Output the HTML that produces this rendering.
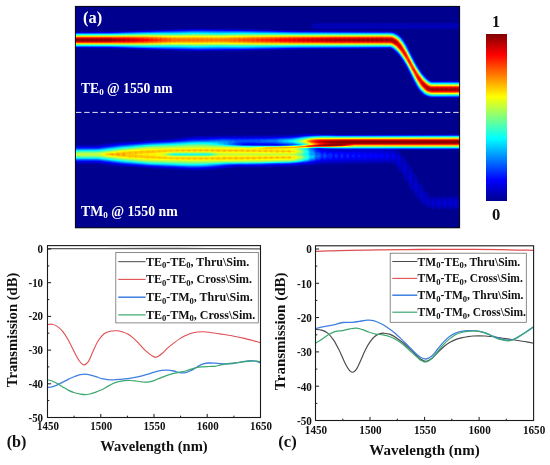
<!DOCTYPE html>
<html><head><meta charset="utf-8"><title>Figure</title>
<style>
html,body{margin:0;padding:0;background:#fff}
svg{display:block}
text{font-family:"Liberation Serif",serif;font-weight:bold;fill:#111}
.tk{font-size:11px}
.al{font-size:14.6px}
.pl{font-size:16px}
.lg{font-size:12px}
.sb{font-size:8.6px}
.hl{font-size:13.6px;fill:#fff}
.hs{font-size:9px;fill:#fff}
</style></head><body>
<svg width="550" height="465" viewBox="0 0 550 465">
<defs>
<filter id="jet" x="0" y="0" width="100%" height="100%" filterUnits="objectBoundingBox" color-interpolation-filters="sRGB">
<feGaussianBlur stdDeviation="0.55"/>
<feComponentTransfer>
<feFuncR type="table" tableValues="0 0 0 0 0.5 1 1 1 0.5"/>
<feFuncG type="table" tableValues="0 0 0.5 1 1 1 0.5 0 0"/>
<feFuncB type="table" tableValues="0.56 1 1 1 0.5 0 0 0 0"/>
<feFuncA type="linear" slope="0" intercept="1"/>
</feComponentTransfer>
</filter>
<clipPath id="hc"><rect x="75" y="6" width="385" height="222"/></clipPath>
<linearGradient id="cb" x1="0" y1="1" x2="0" y2="0">
<stop offset="0" stop-color="#00008f"/><stop offset="0.125" stop-color="#0000ff"/><stop offset="0.375" stop-color="#00ffff"/><stop offset="0.5" stop-color="#80ff80"/><stop offset="0.625" stop-color="#ffff00"/><stop offset="0.875" stop-color="#ff0000"/><stop offset="1" stop-color="#800000"/>
</linearGradient>
</defs>
<rect width="550" height="465" fill="#fff"/>
<g clip-path="url(#hc)">
<g filter="url(#jet)">
<rect x="60" y="0" width="420" height="240" fill="#000"/>
<path fill="rgb(11,11,11)" d="M462.2 29.2L461.2 29.1L459.2 28.5L456.8 29.2L455.8 29.1L453.8 28.5L451.2 29.2L450.2 29.1L448.2 28.5L445.8 29.2L444.8 29.1L442.8 28.5L440.2 29.2L439.2 29.1L437.2 28.5L434.8 29.2L433.8 29.1L431.8 28.5L429.2 29.2L428.2 29.1L426.2 28.5L423.8 29.2L422.8 29.1L420.8 28.5L418.2 29.2L417.2 29.1L415.2 28.5L412.8 29.2L411.8 29.1L409.8 28.5L407.2 29.2L406.2 29.1L404.2 28.5L401.8 29.2L400.8 29.1L398.8 28.5L396.2 29.2L395.2 29.1L393.2 28.5L390.8 29.2L389.8 29.1L387.8 28.5L385.2 29.2L384.2 29.1L382.2 28.5L379.8 29.2L378.8 29.1L376.8 28.5L374.2 29.2L373.2 29.1L371.2 28.5L368.8 29.2L367.8 29.1L365.8 28.5L363.2 29.2L362.2 29.1L360.2 28.5L357.8 29.2L356.8 29.1L354.8 28.5L352.2 29.2L351.2 29.1L349.2 28.5L346.8 29.2L345.8 29.1L343.8 28.5L341.2 29.2L340.2 29.1L338.2 28.5L335.8 29.2L334.8 29.1L332.8 28.5L330.2 29.2L329.2 29.1L327.2 28.5L325.2 29.1L324.2 29.2L321.8 28.4L319.8 28.9L318.8 29L316.2 27.9L314.2 28.4L313.2 28.3L312.3 27.8L311.8 27.2L311.3 26.2L311.3 25.8L311.5 25.2L312.2 24.3L313.2 23.7L314.2 23.6L316.2 24.1L318.8 23L319.8 23.1L321.8 23.6L324.2 22.8L325.2 22.9L327.2 23.5L329.2 22.9L330.2 22.8L332.8 23.5L334.8 22.9L335.8 22.8L338.2 23.5L340.2 22.9L341.2 22.8L343.8 23.5L345.8 22.9L346.8 22.8L349.2 23.5L351.2 22.9L352.2 22.8L354.8 23.5L356.8 22.9L357.8 22.8L360.2 23.5L362.2 22.9L363.2 22.8L365.8 23.5L367.8 22.9L368.8 22.8L371.2 23.5L373.2 22.9L374.2 22.8L376.8 23.5L378.8 22.9L379.8 22.8L382.2 23.5L384.2 22.9L385.2 22.8L387.8 23.5L389.8 22.9L390.8 22.8L393.2 23.5L395.2 22.9L396.2 22.8L398.8 23.5L400.8 22.9L401.8 22.8L404.2 23.5L406.2 22.9L407.2 22.8L409.8 23.5L411.8 22.9L412.8 22.8L415.2 23.5L417.2 22.9L418.2 22.8L420.8 23.5L422.8 22.9L423.8 22.8L426.2 23.5L428.2 22.9L429.2 22.8L431.8 23.5L433.8 22.9L434.8 22.8L437.2 23.5L439.2 22.9L440.2 22.8L442.8 23.5L444.8 22.9L445.8 22.8L448.2 23.5L450.2 22.9L451.2 22.8L453.8 23.5L455.8 22.9L456.8 22.8L459.2 23.5L461.2 22.9L462.2 22.8L462.4 25.8L462.2 29.2ZM308.8 26.6L308.2 26.6L308 26.2L308 25.8L308.2 25.4L308.8 25.4L309.2 25.8L309.2 26.2L308.8 26.6ZM462.2 98.3L431.2 98.3L429.2 98.1L427.2 97.5L424.8 96.4L423.2 95.5L421.1 93.8L419.7 92.2L417.7 89.8L416 87.2L413.6 82.8L406.2 67.7L403.8 63.3L400.8 58.8L397.2 54.4L394.6 51.8L392.1 49.8L389.8 48.8L389.2 49L351.8 49L300.8 49.5L239.8 51.1L194.8 51.6L147.8 50L110.2 48.4L72.8 48.2L72.4 47.2L72.3 45.8L72.4 32.8L72.8 31.8L110.2 31.6L147.8 30L194.8 28.4L239.8 28.9L299.8 30.4L316.2 30.3L319.2 30.1L321.8 30.3L324.2 30.1L327.2 30.3L335.8 30.3L338.2 30.5L340.8 30.4L349.2 30.6L357.8 30.5L360.2 30.7L363.2 30.5L365.8 30.7L368.2 30.5L371.2 30.7L373.8 30.5L382.2 30.7L385.2 30.5L387.8 30.7L390.8 30.6L394.2 31.4L396.8 32.6L400.2 35L402.9 37.8L405.4 41.2L406.9 43.8L415.2 60.8L418.8 66.9L421.2 70.6L423.8 73.8L426.9 77.2L429.3 79.2L430.9 80.2L432.2 80.7L432.8 80.5L462.2 80.5L462.6 81.2L462.7 82.2L462.7 89.2L462.7 96.8L462.2 98.3ZM462.2 209.4L461.2 209.4L459.2 207.9L458.8 207.8L456.8 209.2L456.2 209.4L455.2 209.3L453.2 207.8L452.8 207.9L451.2 209.1L450.2 209.5L449.2 209.1L447.8 207.9L447.2 207.9L445.8 209L444.8 209.5L443.8 209.2L442.2 208L441.8 207.8L441.2 208L439.8 209.2L438.8 209.4L437.8 208.9L436.2 207.7L435.8 207.7L434.2 208.9L433.2 209.2L432.2 208.9L430.8 207.4L430.2 207.2L428.2 208.1L427.2 207.9L426.2 206.8L424.8 204.5L424.2 204.2L422.8 204.7L421.8 204.3L420.8 202.8L419.2 199.3L418.8 198.6L418.2 198.5L417.2 198.8L416.8 198.7L416.2 198.3L415.2 196.5L413.2 190.9L412.8 190.5L411.2 190.6L410.2 189.5L409.4 187.2L407.8 182L407.2 181.2L406.8 181.1L405.8 181.2L405.2 180.9L404.8 180.3L403.9 178.2L402.2 173.1L401.8 172.1L401.2 171.8L400.2 172L399.8 171.8L399.2 171.4L398.5 170.2L396.8 166.2L396.2 165.3L395.8 165L394.2 165.2L393.8 165L392.8 164.3L391.2 162.6L390.8 162.3L390.2 162.4L388.8 163.3L387.8 163.6L384.8 162.9L382.8 163.5L381.8 163.7L379.2 163L376.2 163.7L373.2 163.1L370.8 163.8L369.8 163.8L367.8 163.2L364.8 163.9L361.8 163.3L359.2 164L356.2 163.4L353.2 164.1L350.8 163.5L347.8 164.2L344.8 163.6L342.2 164.2L341.2 164.2L339.2 163.7L336.2 164.3L333.8 163.8L330.8 164.5L327.8 164L324.8 164.7L322.2 164.3L319.2 165L316.8 164.8L313.8 165.3L310.8 165.1L307.8 165.5L305.2 165.5L290.2 166.7L260.2 167.4L237.8 167.5L233.8 167.8L217.8 169.6L210.8 170.1L202.2 170.4L189.8 170.5L150.8 168.5L135.7 167.2L119.8 166.6L113.2 166.1L104.2 165.1L97.8 164L72.8 164L72.4 162.2L72.3 158.8L72.3 149.2L72.5 145.8L72.8 144.7L97.8 144.7L104.8 143.5L113.8 142.5L119.8 142L137.1 141.2L150.2 140.1L166.5 139.2L173.8 138.5L188.2 136.5L199.2 135.8L208.2 135.9L210.8 135.6L213.8 135.8L222.2 135.5L242.2 135.5L245.2 135.4L247.8 135.5L250.8 135.3L253.8 135.4L287.2 135.1L293.2 134.8L305.2 133.6L310.2 133.4L326.8 134.3L337.2 134.5L462.2 134.3L462.5 134.8L462.7 135.8L462.7 141.8L462.7 148.2L462.6 149.2L462.2 149.9L406.8 149.8L401.2 149.9L398.2 150.4L396.2 150.2L395.8 150.8L396.2 151.1L396.8 151.2L398.2 150.9L398.8 151.1L399.9 152.2L401.8 155.7L402.2 156.1L403.8 156.2L404.8 157L405.7 158.8L407.2 163.4L407.8 164.2L408.2 164.4L409.2 164.3L409.8 164.4L410.8 165.8L413.2 173.2L413.8 173.7L415.2 173.7L416.2 174.9L417.1 177.2L418.8 182.7L419.2 183.4L419.8 183.6L420.8 183.4L421.2 183.7L421.8 184.3L422.8 186.5L424.2 191.1L424.8 192L425.2 192.2L426.2 191.9L426.8 192L427.2 192.3L428 193.2L429.8 196.8L430.2 197.4L430.8 197.5L432.2 196.7L433.2 196.4L434.2 196.7L435.8 197.9L436.2 197.9L437.8 196.7L438.8 196.2L439.8 196.4L441.2 197.6L441.8 197.8L442.2 197.6L443.8 196.4L444.8 196.2L445.8 196.6L447.2 197.7L447.8 197.7L449.2 196.5L450.2 196.1L451.2 196.4L452.8 197.7L453.2 197.8L455.2 196.3L456.2 196.2L456.8 196.3L458.8 197.8L459.2 197.7L461.2 196.2L462.2 196.3L462.6 202.8L462.2 209.4Z"/>
<path fill="rgb(20,20,20)" d="M462.2 97.8L431.2 97.8L429.2 97.6L427.2 97L425.2 96.1L423.2 94.9L421.8 93.7L419.8 91.8L417.8 89.1L416.5 87.2L413.8 82.2L406.8 67.9L403.2 61.9L401.2 58.9L397.8 54.4L395.3 51.8L392.2 49.3L390.2 48.4L347.8 48.5L300.8 49L239.2 50.4L194.8 50.9L151.8 49.6L110.2 48L72.8 47.7L72.4 46.8L72.3 44.8L72.4 33.2L72.8 32.3L110.2 32L151.8 30.4L194.8 29.1L239.2 29.6L300.2 31L391.8 31.5L395.2 32.4L398.2 34.1L400.9 36.2L403.1 38.8L406.4 43.8L414.8 60.5L418.8 67.5L421.2 71.3L424.8 75.6L427.4 78.2L429.2 79.7L430.8 80.7L431.8 81L462.2 81L462.6 82.8L462.7 89.2L462.6 96.2L462.2 97.8ZM206.2 169.3L198.8 169.5L189.8 169.5L150.2 167.6L134 166.2L119.8 165.5L106.8 164.1L97.8 162.8L72.8 162.7L72.4 160.8L72.3 156.8L72.3 150.2L72.6 146.8L72.8 145.9L97.8 145.9L107.2 144.4L119.8 143.1L135.5 142.2L150.2 141L168.2 140.1L179.2 139L188.2 137.9L199.8 137.2L202.2 137.3L205.2 137.1L207.8 137.2L210.8 137L213.8 137L222.2 136.7L230.8 136.8L233.8 136.6L236.8 136.8L239.2 136.6L242.2 136.8L245.2 136.6L247.8 136.7L250.8 136.5L270.8 136.4L287.2 136L293 135.8L304.8 134.5L310.8 134.3L338.2 134.9L462.2 134.7L462.6 135.8L462.7 147.2L462.6 148.8L462.2 149.5L402.2 149.5L395.8 149.6L393.2 150.1L390.2 149.9L388.7 150.2L388.9 150.8L390.2 151.9L390.8 152L392.8 150.9L393.8 151.2L394.6 152.2L396.2 155.2L396.8 155.1L397.8 154.2L398.2 154L398.8 154.2L399.2 154.6L399.8 155.5L400.4 157.2L401 161.2L400.9 163.8L400.2 165.7L399.8 166.3L399.2 166.3L398.7 165.8L397.9 164.2L396.8 161L396.2 160.2L395.8 160.3L394.4 161.8L393.8 162L392.8 161.4L391.2 159.8L390.8 159.6L390.2 159.7L388.8 161L387.8 161.4L386.8 161.2L385.2 160.4L384.8 160.3L382.8 161.3L381.8 161.5L379.2 160.6L378.8 160.6L376.2 161.6L373.2 160.7L371.2 161.6L370.2 161.7L367.8 160.9L364.8 161.9L362.2 161L361.8 161L359.2 162L358.2 161.8L356.2 161.1L354.2 161.9L353.2 162.1L350.8 161.3L347.8 162.2L344.8 161.4L342.2 162.3L341.2 162.2L339.2 161.5L336.2 162.4L333.8 161.7L332.8 161.8L330.8 162.6L329.8 162.5L327.8 162L324.8 162.9L322.8 162.4L321.8 162.3L319.2 163.3L316.8 163.1L313.8 163.8L310.8 163.7L307.8 164.2L290.8 165.6L260.2 166.4L236.8 166.6L231.2 167L216.8 168.6L206.2 169.3ZM362.3 150.2L361.7 150.2L362.3 150.2ZM368.3 150.2L367 150.2L367.8 150.7L368.3 150.2ZM374 150.8L374.3 150.2L372.5 150.2L372.8 150.8L374 150.8ZM380 150.8L380.3 150.2L379.2 150.1L377.9 150.2L378.2 150.8L378.8 151L379.2 151L380 150.8ZM384.9 151.2L386.1 150.8L386.3 150.2L384.8 150L383.4 150.2L383.8 150.9L384.9 151.2ZM405.2 174.8L404.8 174.4L404.2 173.2L403.6 170.8L403.1 167.8L403 164.2L403.3 162.8L403.8 161.6L404.2 161.5L405.2 163.3L406.2 167.8L406.4 170.2L406.3 172.2L405.8 174.2L405.2 174.8ZM411.2 184.1L410.8 184.2L410.2 183.2L409.4 180.8L409 177.8L408.7 174.8L408.8 172.8L409.2 171L409.8 170.4L410.2 170.7L410.8 171.8L411.3 173.8L411.9 177.2L411.9 181.8L411.8 182.9L411.2 184.1ZM416.8 193.1L416.2 192.9L415.5 191.2L414.9 188.8L414.6 186.2L414.5 183.8L414.7 181.8L415.2 180.5L415.8 180.4L416.2 181.2L416.8 182.6L417.6 187.8L417.5 191.2L417.2 192.3L416.8 193.1ZM422.2 200L421.8 199.8L421.2 198.9L420.8 197.2L420.4 195.2L420.4 191.8L420.8 190.4L421.2 189.8L421.8 190.2L422.2 191.2L422.8 193.2L423.2 195.8L423.1 198.8L422.8 199.7L422.2 200ZM428.2 204.5L427.8 204.7L427.1 204.2L426.6 203.2L426.1 201.2L426 199.8L426.2 198.2L426.8 197.2L427.2 197.1L427.8 197.5L428.2 198.3L429.1 201.2L429 203.2L428.2 204.5ZM439.2 206.5L438.8 206.6L437.8 205.8L437.3 204.8L437 203.2L437 202.2L437.4 200.8L437.9 199.8L438.8 199L439.2 199.1L439.8 199.4L440.2 200.1L440.9 201.8L441 202.8L440.9 203.8L440.4 205.2L439.8 206.2L439.2 206.5ZM445.2 206.4L444.8 206.6L444.2 206.6L443.8 206.2L442.9 204.8L442.5 203.2L442.6 201.8L443.2 200.2L443.8 199.4L444.2 199L444.8 199L445.2 199.2L445.8 199.8L446.4 201.2L446.6 202.2L446.5 204.2L445.8 205.8L445.2 206.4ZM450.8 206.5L450.2 206.7L449.8 206.5L449.2 206L448.6 204.8L448.3 203.2L448.3 201.8L448.9 200.2L449.6 199.2L450.2 198.9L451 199.2L451.7 200.2L452.1 201.2L452.4 202.8L452 204.8L451.5 205.8L450.8 206.5ZM456.8 206.3L456.2 206.6L455.8 206.6L455.2 206.3L454.5 205.2L453.9 203.2L453.9 202.2L454.3 200.8L454.9 199.8L455.8 199L456.2 199L457.1 199.8L457.7 200.8L458.1 202.2L457.9 204.2L457.5 205.2L456.8 206.3ZM462.2 206.5L461.8 206.7L461.2 206.5L460.8 206.1L460 204.8L459.6 203.2L459.8 201.8L460.3 200.2L461 199.2L461.8 198.9L462.2 199.1L462.3 199.8L462.2 206.5ZM433.2 206.3L432.8 206.1L432.1 205.2L431.7 204.2L431.5 202.8L431.7 201.2L432.1 200.2L432.8 199.5L433.2 199.3L433.8 199.5L434.4 200.2L434.8 201.2L435.1 202.8L434.9 204.2L434.4 205.2L433.8 206.1L433.2 206.3Z"/>
<path fill="rgb(31,31,31)" d="M462.2 97.4L431.2 97.4L429.2 97.1L427.2 96.5L425.2 95.6L423.2 94.4L420 91.2L417 87.2L413.5 80.8L406.8 67.2L403.2 61.2L400.8 57.6L397.3 53.2L394.7 50.8L392.8 49.2L390.2 48L301.2 48.5L239.2 49.8L194.8 50.3L151.8 49L110.2 47.5L72.8 47.3L72.4 46.2L72.3 43.8L72.4 33.8L72.8 32.7L110.2 32.5L151.8 31L194.8 29.7L239.2 30.2L300.8 31.5L391.8 32L394.8 32.8L397.8 34.3L400.3 36.2L403 39.2L406.5 44.8L414.8 61.3L419.2 68.9L422.2 73.2L424.8 76.1L426.8 78.2L429.2 80.2L430.8 81.1L431.8 81.4L462.2 81.4L462.6 83.2L462.7 89.2L462.6 95.8L462.2 97.4ZM207.2 168.3L199.2 168.6L189.8 168.6L151.2 166.8L137.9 165.8L119.8 164.6L107.2 163.1L97.8 161.8L72.8 161.7L72.5 159.8L72.3 156.2L72.4 150.8L72.6 147.8L72.8 146.9L97.8 146.9L107.8 145.5L119.8 144.1L132.7 143.2L150.2 141.8L171 140.8L179.8 140L188.2 139L193.8 138.6L196.8 138.7L199.8 138.4L202.2 138.5L207.8 138.4L210.8 138.1L213.8 138.2L222.2 137.8L242.2 137.8L245.2 137.7L247.8 137.8L250.8 137.6L253.8 137.7L256.2 137.5L259.2 137.6L262.2 137.4L275.8 137.3L292.8 136.6L302.8 135.5L310.8 134.9L324.8 134.9L338.8 135.2L462.2 135L462.6 136.2L462.7 146.2L462.5 148.2L462.2 149.1L406.2 149.1L396.2 149.2L393.2 149.4L390.2 149.3L387.8 149.5L384.8 149.3L370.2 149.5L367.8 149.4L364.8 149.5L361.8 149.4L359.2 149.6L356.2 149.4L353.2 149.6L350.8 149.4L347.8 149.6L344.8 149.4L341.8 149.6L339.2 149.4L336.2 149.6L333.2 149.3L330.2 149.6L327.8 149.2L324.8 149.7L323.3 149.2L321.8 149.1L320.9 149.2L320.6 149.8L321.8 150.9L322.8 150.9L324.8 150L327.8 151.7L329.8 150.9L330.8 150.8L333.2 152.2L333.8 152.2L335.2 151.4L336.2 151.1L337.2 151.4L338.8 152.4L339.2 152.5L341.2 151.4L342.2 151.3L344.8 152.7L345.2 152.6L346.8 151.7L347.8 151.4L348.8 151.8L350.2 152.9L350.8 152.9L352.2 152L353.2 151.6L354.2 151.8L355.8 153L356.2 153.2L356.8 153L358.2 152L359.2 151.8L360.2 152.2L361.8 153.4L362.2 153.4L363.8 152.3L364.8 151.9L365.8 152.3L367.2 153.6L367.8 153.8L369.8 152.3L370.8 152.1L371.8 152.7L373.2 154.2L373.8 154.1L375.2 152.6L376.2 152.3L377.2 152.8L378.8 154.6L379.2 154.7L381.2 152.8L381.8 152.5L382.2 152.6L382.8 152.9L383.5 153.8L384.1 154.8L384.3 155.8L384.1 156.8L383.2 158.2L382.7 158.8L381.8 159.1L380.8 158.5L379.2 156.9L378.8 157L377.2 158.8L376.2 159.3L375.2 159L373.8 157.5L373.2 157.4L371.8 158.9L370.8 159.5L369.8 159.3L367.8 157.8L367.2 158L365.8 159.3L364.8 159.7L363.8 159.3L362.2 158.2L361.8 158.2L360.2 159.4L359.2 159.8L358.2 159.6L356.8 158.6L356.2 158.4L355.8 158.6L354.2 159.8L353.2 160L352.4 159.8L350.8 158.7L350.2 158.7L348.8 159.8L347.8 160.2L346.8 159.9L345.2 159L344.8 158.9L342.8 160.1L341.8 160.3L339.2 159.1L338.8 159.2L337.2 160.2L336.2 160.5L335.4 160.2L333.8 159.4L333.2 159.4L330.8 160.8L329.8 160.7L327.8 159.9L325.8 160.9L324.8 161.2L322.2 160.3L321.8 160.4L319.2 161.7L316.8 161.6L313.8 162.5L311.2 162.5L307.8 163.2L291.8 164.6L260.2 165.5L235.8 165.7L228.7 166.2L215.8 167.6L207.2 168.3ZM387.8 159L387 158.8L386.2 158L385.5 156.8L385.3 155.8L385.6 154.8L386.2 153.6L387.1 152.8L387.8 152.6L388.2 152.9L388.8 153.8L389.3 155.8L388.9 157.8L388.2 158.7L387.8 159ZM393.8 158.3L393.2 158.4L392.8 158.1L392.1 156.8L392.1 155.2L392.8 154L393.2 154L393.8 154.5L394 155.2L394.2 156.8L393.8 158.3Z"/>
<path fill="rgb(41,41,41)" d="M462.2 97L431.2 97L427.8 96.3L425.8 95.5L424.2 94.7L422.8 93.5L420.8 91.6L419.2 89.8L417.4 87.2L414.6 82.2L406.9 66.8L403.3 60.8L400.9 57.2L398.6 54.2L395.2 50.8L392.8 48.8L390.2 47.6L301.2 48.1L239.2 49.3L197.2 49.7L151.8 48.6L110.2 47.2L72.8 47L72.5 45.8L72.3 42.8L72.5 33.8L72.8 33L110.2 32.8L147.2 31.5L193.8 30.3L239.2 30.7L300.8 31.9L351.8 32.2L390.2 32.3L392.2 32.4L395.2 33.4L398.2 35.1L400.8 37.2L402.9 39.8L406.4 45.2L414.7 61.8L419.2 69.5L421.9 73.2L424.8 76.6L426.8 78.6L428.8 80.3L430.2 81.3L431.8 81.8L462.2 81.8L462.6 83.8L462.7 89.2L462.6 94.8L462.2 97ZM202.8 167.8L189.8 167.9L150.2 166.2L119.8 163.8L97.8 161L72.8 161L72.5 158.8L72.4 155.2L72.7 148.2L72.8 147.7L97.8 147.7L120.2 144.8L150.2 142.4L173.8 141.3L193.8 139.5L207.8 139.3L210.8 139L213.8 139L222.2 138.6L228.2 138.5L230.8 138.7L233.8 138.6L236.8 138.8L239.2 138.6L242.2 138.8L245.2 138.6L247.8 138.7L250.8 138.5L253.8 138.6L256.2 138.4L259.2 138.5L262.2 138.3L264.8 138.4L275.2 138.1L279.2 137.8L292.8 137.2L303.2 136L311.2 135.4L324.8 135.3L338.8 135.5L462.2 135.3L462.5 136.2L462.7 145.2L462.5 147.8L462.2 148.9L406.8 148.8L387.8 149.1L341.8 149.1L330.8 149L327.8 148.8L325.2 148.9L320.8 148.6L317.8 148.9L316.7 149.2L316.9 149.8L317.2 150L318.8 150.4L319.8 151.1L321.8 153.2L322.2 153.2L322.8 153L324.2 152L325.2 152L326.2 152.7L327.8 154.2L328.2 154L329.8 152.7L330.2 152.5L331.2 152.7L332.5 154.2L333 155.8L332.5 157.2L331.9 158.2L331.2 158.8L330.2 159.1L329.6 158.8L328.2 157.6L327.8 157.4L326.2 158.9L325.2 159.6L324.2 159.5L322.2 158.3L321.8 158.4L320.2 159.8L319.2 160.4L316.8 160.5L313.8 161.5L310.2 161.7L309 162.2L307.8 162.5L292.2 164L260.2 164.8L234.2 165.1L226.2 165.7L212.8 167.1L202.8 167.8ZM281.4 145.2L283 144.8L275.2 144L248.2 143.4L242.8 143.8L241.5 144.2L242.8 144.8L253.2 145.2L275.2 145.4L281.4 145.2ZM336.8 158.4L336.2 158.5L335.2 158L334.4 156.8L334.2 155.8L334.5 154.8L335.1 153.8L335.8 153.2L336.2 153.1L336.8 153.2L337.4 153.8L337.9 154.8L338.1 155.8L337.8 157.2L336.8 158.4ZM341.8 158.3L341.2 158L340.6 157.2L340.3 155.8L340.5 154.8L341.1 153.8L341.8 153.3L342.2 153.4L342.8 153.7L343.2 154.4L343.6 155.2L343.6 156.2L343.2 157.2L342.8 157.9L342.2 158.2L341.8 158.3ZM348.2 157.8L347.8 158L347.2 157.9L346.6 157.2L346.2 156.2L346.4 154.8L347.2 153.7L347.8 153.6L348.2 153.8L348.8 154.5L349 155.2L348.9 156.8L348.2 157.8ZM353.8 157.6L353.2 157.7L352.8 157.4L352.2 156.2L352.4 154.8L352.8 154.2L353.2 153.9L354 154.2L354.5 155.2L354.4 156.8L353.8 157.6ZM359.2 157.3L358.8 157.2L358.4 156.8L358.1 155.8L358.4 154.8L358.8 154.4L359.2 154.3L359.8 154.8L360 155.8L359.8 156.8L359.2 157.3ZM364.8 156.7L364.3 156.2L364.2 155.8L364.3 155.2L364.8 154.9L365.2 155.2L365.3 155.8L365.2 156.2L364.8 156.7Z"/>
<path fill="rgb(51,51,51)" d="M437.2 96.8L431.2 96.7L427.8 96L425.8 95.2L424.2 94.3L421.2 91.7L418.8 88.7L416.3 84.8L407.7 67.8L402.7 59.2L398.9 54.2L396.7 51.8L394.5 49.8L392.8 48.4L390.2 47.3L301.2 47.7L239.2 48.9L197.2 49.3L151.8 48.2L109.2 46.9L72.8 46.7L72.5 45.2L72.3 41.8L72.4 36.8L72.6 33.8L72.8 33.3L109.2 33.1L147.2 31.9L193.8 30.8L239.2 31.1L300.8 32.3L351.8 32.6L390.2 32.6L392.2 32.8L395.2 33.7L398 35.2L400.2 37.1L402.5 39.8L404.3 42.2L406.1 45.2L414.3 61.8L419.1 69.8L421.6 73.2L424.9 77.2L426.4 78.8L429.2 81L430.2 81.6L431.8 82.1L462.2 82.1L462.6 84.2L462.7 89.2L462.6 94.2L462.2 96.7L437.2 96.8ZM199.2 167.3L189.8 167.3L149.8 165.6L119.8 163.2L97.8 160.4L72.8 160.4L72.4 154.8L72.7 148.8L72.8 148.3L97.8 148.3L120.2 145.4L149.8 143L173.2 141.9L193.8 140.3L207.8 140L210.8 139.7L213.8 139.8L216.8 139.5L219.2 139.6L222.2 139.3L228.2 139.3L231.2 139.6L233.8 139.5L236.8 139.7L239.2 139.6L242.2 139.8L245.2 139.6L248.2 139.7L250.8 139.4L253.8 139.6L256.7 139.2L259.2 139.4L262.2 139.1L264.8 139.2L267.8 139L270.8 139.1L275.8 138.9L279.2 138.4L292.8 137.8L306.8 136.1L313.8 135.7L324.8 135.5L338.8 135.7L462.2 135.6L462.5 136.8L462.6 144.8L462.5 147.8L462.2 148.6L406.8 148.6L387.8 148.8L341.8 148.8L325.2 148.5L321.8 148.2L316.8 148.3L315 148.8L314.8 149.2L314.9 149.8L315.8 151.1L316.8 152.2L318.8 152.2L319.8 152.8L320.4 153.8L320.8 154.8L321 155.8L320.9 156.8L320.2 158.1L319.2 159L318.8 159.2L316.8 159.1L314.8 160.4L313.8 160.8L311.2 161L304.2 162.4L303.8 162.1L302.5 162.2L301 162.8L291.2 163.6L260.2 164.4L232.2 164.7L224.9 165.2L210.2 166.7L199.2 167.3ZM287.9 145.2L290.2 144.8L287.2 144.2L279.2 143.7L275.2 143.2L264.8 142.9L262.2 142.9L259.2 142.7L256.2 142.8L253.8 142.5L250.8 142.6L247.8 142.3L245.2 142.6L241.8 142.6L236.8 143.7L236.2 144.2L237.9 144.8L241.8 145.1L248.2 145.4L275.8 145.7L287.9 145.2ZM324.8 157.8L323.9 157.2L323.6 156.8L323.5 155.8L323.7 154.8L324 154.2L324.8 153.8L325.2 153.9L325.8 154.6L326 155.8L325.6 157.2L325.2 157.7L324.8 157.8ZM330.8 155.8L330.2 156.2L330.2 155.5L330.8 155.8Z"/>
<path fill="rgb(61,61,61)" d="M462.2 96.4L431.2 96.4L427.8 95.7L425.8 94.8L424.2 93.9L422.8 92.7L420.8 90.7L419.1 88.8L417.8 86.8L415 81.8L407.8 67.2L404.8 62L402.2 58.1L398.8 53.6L395.8 50.5L393 48.2L391.2 47.3L390.2 47L301.2 47.4L243.8 48.4L218.8 48.4L197.8 48.8L151.8 47.9L109.2 46.6L72.8 46.5L72.5 44.8L72.4 41.8L72.6 34.2L72.8 33.5L112.2 33.3L147.2 32.3L177.2 31.7L193.8 31.2L218.8 31.6L239.2 31.6L301.2 32.6L391.8 33L394.8 33.8L397.8 35.5L400.2 37.5L402.8 40.5L405.7 45.2L411.2 56.4L416.2 65.8L420.8 72.7L424.2 77L426 78.8L429.2 81.4L430.2 81.9L431.8 82.4L462.2 82.4L462.5 84.8L462.6 89.2L462.6 93.8L462.2 96.4ZM196.2 166.8L189.8 166.7L149.8 165.1L119.8 162.7L97.8 159.8L72.8 159.8L72.4 154.8L72.7 149.2L72.8 148.9L97.8 148.9L119.8 146L149.8 143.5L173.2 142.4L193.8 140.9L207.8 140.8L210.8 140.5L213.8 140.5L216.8 140.3L219.2 140.4L222.2 140.1L228.2 140.2L230.8 140.6L233.2 140.5L234.7 140.8L235.7 141.2L235.8 141.8L234.4 142.8L232.2 143.8L232.4 144.2L234.1 144.8L238.4 145.2L253.8 145.8L283.3 145.8L292.3 145.2L294.7 144.8L292.8 144.2L279.2 143L275.2 142.3L273.2 142.3L270.8 141.9L267.8 142.1L264.8 141.6L261.8 141.8L260.3 141.2L260.4 140.8L261.8 140.2L264.8 140.5L267.8 140L270.8 140.1L273.2 139.8L275.2 139.8L279.2 139.1L292.8 138.3L308.2 136.3L316.2 135.9L324.8 135.7L338.8 136L462.2 135.8L462.5 136.8L462.6 144.2L462.5 147.2L462.2 148.4L341.8 148.5L330.8 148.4L321.2 148L316.2 148L314.3 148.2L312.9 148.8L312.8 149.2L314.8 151.6L316.8 155.6L317.2 155.6L318.2 154.5L318.8 154.4L319.2 154.6L319.6 155.8L319.2 157.1L318.8 157.4L318.2 157.4L317.2 156.8L316.8 156.8L314.9 159.2L313.8 160L311.2 160.3L307.8 161.3L299 162.2L296.8 162.8L294.8 163L294.2 162.6L292.4 162.8L290.2 163.3L279.8 163.6L279.2 163.2L275.5 163.2L272.1 163.8L259.8 164.1L244.2 164.2L243.8 163.7L241 163.8L236 164.2L224.9 164.8L206.8 166.4L196.2 166.8ZM257.2 141.3L256 141.2L256.1 140.8L257.5 140.8L257.6 141.2L257.2 141.3Z"/>
<path fill="rgb(71,71,71)" d="M462.2 96.1L431.8 96.2L429.8 95.9L427.8 95.4L425.8 94.5L424.2 93.6L422.7 92.2L420.8 90.3L418.2 86.9L415.1 81.2L407.8 66.6L404.2 60.6L402.2 57.6L398.8 53.1L396 50.2L393.2 48L390.8 46.8L351.8 46.8L301.2 47L243.8 47.9L218.8 47.9L197.8 48.2L177.2 47.7L147.2 47.4L112.2 46.4L72.8 46.2L72.5 44.2L72.4 40.8L72.6 34.2L72.8 33.8L112.2 33.6L142.8 32.7L177.2 32.3L193.2 31.8L218.8 32.1L243.8 32.1L301.2 32.9L386.2 33.2L391.8 33.3L394.8 34.2L397.7 35.8L400.1 37.8L402.2 40.4L405.1 44.8L411.2 57L416.2 66.3L420.2 72.5L423.6 76.8L425.5 78.8L429.2 81.7L431.8 82.7L462.2 82.7L462.5 85.2L462.6 89.2L462.5 93.8L462.2 96.1ZM207.2 165.8L199.2 166.2L190.2 166.2L150.2 164.7L120.2 162.2L98.2 159.4L72.8 159.3L72.5 154.8L72.7 149.8L72.8 149.4L98.2 149.3L120.2 146.4L149.8 143.9L169.8 143.1L188.8 141.8L199.8 141.4L207.8 141.4L210.8 141.2L213.8 141.3L216.8 141.1L219.8 141.3L222.2 141.1L227.2 141.5L228.4 141.8L228.8 142.2L228.3 143.8L228.7 144.2L230.2 144.8L234.6 145.2L242.2 145.7L264.8 146L279.8 146L287.2 145.8L295.4 145.2L297.4 144.8L296.2 144.2L292.8 143.6L279.1 142.2L277.7 141.8L277.1 141.2L277.2 140.8L277.9 140.2L279.8 139.8L292.8 138.8L301.2 137.5L309.2 136.6L317.8 136.1L462.2 136L462.4 136.8L462.6 143.8L462.2 148.2L341.8 148.3L325.2 148L321.2 147.8L315.8 147.8L311.7 148.2L310.3 148.8L310.2 149.2L310.8 150.2L311.2 150.6L312.9 151.2L313.8 152.2L315.1 155.8L315.1 156.8L314.8 157.9L313.8 159L312.8 159.3L311.2 159.3L308.8 160.6L307.8 160.9L302.8 161.6L296.3 162.2L294.8 162.5L294.2 162.4L279.8 163.3L279.2 162.9L267 163.2L259.8 163.7L244.2 163.9L243.8 163.5L229.5 163.8L226.7 164.2L207.2 165.8Z"/>
<path fill="rgb(82,82,82)" d="M462.2 95.8L431.2 95.8L427.8 95L425.8 94.2L424.3 93.2L421.2 90.2L418.5 86.8L415.4 81.2L407.8 66.2L404.2 60.2L402.3 57.2L398.8 52.6L396.4 50.2L393.8 48L390.8 46.5L301.2 46.7L243.8 47.4L218.8 47.3L193.2 47.7L177.2 47.2L147.2 47L108.2 46.1L72.8 46L72.5 43.8L72.4 40.2L72.7 34.2L72.8 34L73.2 34L112.2 33.9L147.2 33L177.2 32.8L193.2 32.3L218.8 32.7L243.8 32.6L301.2 33.3L386.2 33.5L391.8 33.6L394.2 34.3L397.8 36.2L400.1 38.2L402.5 41.2L405 45.2L413.8 62.3L416.2 66.8L420.8 73.6L423.3 76.8L426.2 79.8L429.2 82.1L431.8 83L462.2 83L462.5 85.2L462.6 89.2L462.5 93.2L462.2 95.8ZM206.8 165.3L198.8 165.7L190.2 165.7L150.2 164.3L120.2 161.8L98.2 158.9L72.8 158.8L72.5 154.8L72.7 150.2L72.8 149.9L98.2 149.8L120.2 146.9L149.8 144.4L169.8 143.6L188.8 142.4L199.2 142L216.8 142.1L219.8 142.6L222.2 142.7L224.6 144.2L226.8 144.8L230.8 145.3L241.8 145.9L253.8 146.1L275.8 146.2L290.3 145.8L297.7 145.2L299.9 144.8L298.8 144.2L293.2 143.1L284.8 142.2L283 141.8L282.1 141.2L282.4 140.8L284.8 140.1L292.8 139.3L300.2 138.1L308.2 137L318.2 136.4L324.8 136.2L338.8 136.4L462.2 136.2L462.4 137.2L462.6 143.8L462.2 148L341.8 148L321.2 147.6L313.7 147.8L309.7 148.2L308.8 148.8L308.8 149.2L310 151.8L310.1 153.8L310.3 154.8L311.2 155.6L312.8 155L313.2 155.1L313.8 155.5L314 156.8L313.8 157.5L312.8 158.1L311.2 158L310.8 158.2L308.9 159.8L308 160.2L302.8 161.3L296.8 162L289.8 162.5L260.2 163.2L237.2 163.4L224.8 163.7L223.2 163.8L220.1 164.2L206.8 165.3Z"/>
<path fill="rgb(92,92,92)" d="M462.2 95.5L431.8 95.6L428.2 94.9L426.2 94.1L424.8 93.2L422.1 90.8L419.9 88.2L418.6 86.2L414.9 79.8L408.2 66.6L404.2 59.7L401.9 56.2L398.8 52.2L395.8 49.2L393.8 47.6L390.8 46.2L301.2 46.3L243.8 46.9L218.8 46.8L193.2 47.1L177.2 46.7L142.8 46.5L112.2 45.8L72.8 45.7L72.4 40.8L72.7 34.8L72.8 34.3L73.2 34.3L112.2 34.2L142.8 33.5L177.2 33.3L193.2 32.9L218.8 33.2L243.8 33.1L301.2 33.7L386.2 33.8L391.8 33.9L394.8 34.9L397.8 36.6L400.1 38.8L402.5 41.8L405 45.8L413.8 62.8L416.2 67.2L420.5 73.8L423.8 77.7L425.8 79.8L428.9 82.2L430.2 82.9L431.8 83.3L462.2 83.3L462.6 89.2L462.2 95.5ZM206.8 164.8L198.8 165.2L190.2 165.2L150.2 163.8L120.2 161.3L98.2 158.4L72.8 158.4L72.6 154.8L72.7 150.8L72.8 150.4L98.2 150.3L120.2 147.4L148.2 145L173.8 143.9L188.8 143L199.2 142.6L211.2 142.8L216.8 143.3L220.2 144.2L226.2 145.2L242.2 146.1L253.8 146.3L279.8 146.3L293.4 145.8L299.8 145.2L301.7 144.8L301.1 144.2L292.8 142.4L289.1 141.8L288.1 141.2L288.5 140.8L290.2 140.3L292.8 140L295.8 139.2L301.2 138.3L310.8 137.1L318.2 136.6L325.2 136.5L338.2 136.7L462.2 136.5L462.4 137.8L462.6 143.8L462.2 147.7L341.8 147.8L317.2 147.5L311.3 147.8L308.2 148.2L307.1 148.8L307.1 149.2L308.5 150.8L308.9 151.8L308.9 154.2L309.8 156.8L309.8 157.2L309.3 158.2L308.8 158.9L307.8 159.6L301.8 161.1L296.8 161.7L290 162.2L260.2 163L226.8 163.4L217.6 163.8L213.9 164.2L206.8 164.8Z"/>
<path fill="rgb(102,102,102)" d="M462.2 95.1L431.8 95.2L429.8 94.9L428.2 94.5L426.2 93.7L424.8 92.8L422.2 90.5L420.2 88.2L418.9 86.2L415.4 80.2L407.8 65.3L404.2 59.3L400.8 54.3L398.8 51.9L395.2 48.4L392.9 46.8L390.8 45.9L301.2 45.9L243.8 46.4L218.8 46.3L193.2 46.6L177.2 46.2L147.2 46.2L108.2 45.5L72.8 45.4L72.4 40.2L72.7 34.8L72.8 34.6L73.8 34.6L112.8 34.5L151.8 33.8L177.2 33.8L193.2 33.4L218.8 33.7L239.2 33.5L301.2 34.1L386.2 34.1L391.8 34.3L394.2 35L397.8 37L399.8 38.8L402.2 41.9L404.4 45.2L414.2 64.2L418.2 70.8L420.3 73.8L422.8 76.9L425.8 80.1L428.8 82.5L430.2 83.2L431.8 83.6L462.2 83.7L462.6 89.2L462.2 95.1ZM206.8 164.3L198.8 164.6L190.2 164.7L150.2 163.4L120.2 160.8L98.2 158L72.8 157.9L72.6 154.8L72.7 151.2L72.8 150.8L98.2 150.8L120.2 147.9L144.2 145.7L150.2 145.3L173.2 144.5L193.8 143.4L199.8 143.3L210.8 143.6L218.8 144.8L225.2 145.4L236.2 146.1L247.8 146.4L279.8 146.4L295.2 145.8L301.2 145.2L303.3 144.8L303.1 144.2L296.4 142.8L293.8 141.8L293.4 141.2L293.6 140.8L294.5 140.2L298.1 139.2L306.2 137.9L311.2 137.3L318.2 136.9L325.2 136.8L338.2 136.9L462.2 136.8L462.4 137.8L462.6 143.2L462.2 147.4L406.2 147.4L341.8 147.6L317.2 147.3L311.2 147.6L306.3 148.2L305 148.8L304.9 149.2L305.2 149.6L307.2 150.8L307.8 151.3L307.9 152.2L307.8 152.9L306.8 154L306.2 154.2L306.8 154.4L308.2 155.5L308.7 156.2L308.8 157.2L308.3 158.2L307.8 158.7L301.7 160.8L296.8 161.5L290.2 162L260.2 162.7L226.8 163.1L213.8 163.6L206.8 164.3Z"/>
<path fill="rgb(112,112,112)" d="M462.2 94.8L431.8 94.9L428.8 94.4L426.8 93.6L425.2 92.7L422.2 90.1L419.2 86.2L415.7 80.2L408.2 65.8L404.5 59.2L401 54.2L398.5 51.2L395.2 48L393.5 46.8L390.8 45.5L301.2 45.6L239.2 46L218.8 45.8L193.2 46.1L177.2 45.8L151.8 45.8L112.8 45.2L72.8 45.1L72.5 40.2L72.7 35.2L72.8 34.9L73.2 34.9L112.8 34.8L151.8 34.2L177.2 34.2L193.2 33.9L218.8 34.2L243.8 34L301.2 34.4L386.2 34.4L391.8 34.6L394.2 35.3L397.8 37.4L399.7 39.2L402.2 42.2L403.9 44.8L406.9 50.2L414.6 65.2L418.8 72L423.8 78.5L427.2 81.8L429.2 83.1L431.8 83.9L462.2 84L462.5 89.2L462.2 94.8ZM204.8 163.8L198.2 164.1L189.8 164.1L149.8 162.9L135.5 161.8L120.2 160.3L106.2 158.4L98.2 157.5L72.8 157.4L72.6 154.2L72.8 151.3L98.2 151.2L105.2 150.5L120.2 148.4L143.8 146.2L150.2 145.8L173.2 145L193.8 144L199.8 143.9L205.8 144.1L225.2 145.8L248.2 146.6L279.8 146.5L295.2 145.9L302.4 145.2L304.7 144.8L304.8 144.2L298.5 142.8L295.8 141.8L295.5 141.2L295.7 140.8L296.6 140.2L300.3 139.2L307.2 138.1L311.2 137.6L318.2 137.2L325.2 137.1L338.2 137.2L462.2 137L462.4 138.2L462.5 143.2L462.2 147.2L402.2 147.1L336.2 147.4L316.8 147.2L311.8 147.5L304.5 148.2L303.3 148.8L303.3 149.2L303.7 149.8L305.9 151.8L304.2 153.2L303.8 154.2L303.9 154.8L304.3 155.2L305.2 155.8L306.8 156L307.3 156.2L307.8 156.8L307.8 157.3L307.4 157.8L306.8 158.1L305.2 158.4L302.2 160.1L296.8 161.1L289.8 161.8L260.2 162.5L225.2 162.9L204.8 163.8ZM209.5 154.8L210.1 154.2L206.2 153.8L175.8 153.8L172.5 154.2L173 154.8L175.8 155L204.2 155L209.5 154.8Z"/>
<path fill="rgb(122,122,122)" d="M462.2 94.5L431.8 94.6L429.8 94.3L428.2 93.9L425.2 92.4L422.2 89.7L420.6 87.8L419.2 85.8L415.9 80.2L409.3 67.2L405.8 61L403.8 57.8L400.8 53.6L398.2 50.6L395.2 47.7L393.8 46.6L391.8 45.5L390.8 45.3L301.2 45.2L243.8 45.6L218.8 45.3L193.2 45.7L177.2 45.3L147.2 45.4L112.8 44.9L72.8 44.8L72.5 40.2L72.7 35.2L112.8 35.1L147.2 34.6L177.2 34.7L193.2 34.3L218.8 34.7L243.8 34.4L301.2 34.8L386.2 34.7L391.8 34.9L393.2 35.3L394.8 35.9L397.8 37.7L399.4 39.2L402.2 42.8L403.9 45.2L406.9 50.8L414.1 64.8L417.8 70.8L419.7 73.8L423.2 78.3L426.2 81.2L428.8 83.2L431.2 84.2L462.2 84.3L462.5 89.2L462.2 94.5ZM204.8 163.3L189.8 163.5L149.8 162.3L135.4 161.2L120.2 159.8L107.2 158L98.2 157L72.8 156.9L72.8 151.8L98.2 151.7L105.2 151L120.2 148.9L143.7 146.8L150.2 146.3L173.8 145.6L193.8 144.7L204.8 144.7L225.2 146.1L249.8 146.9L280.2 146.6L295.2 146L300.2 145.7L303.6 145.2L306 144.8L306.2 144.2L304.8 143.8L300.5 142.8L297.9 141.8L297.5 141.2L297.7 140.8L298.7 140.2L302.4 139.2L308.1 138.2L311.2 137.9L318.2 137.4L462.2 137.3L462.4 138.2L462.5 143.2L462.2 146.9L356.2 146.9L336.8 147.2L316.8 147.1L312.2 147.3L305.2 147.9L303 148.2L301.6 148.8L301.7 149.2L303.2 150.8L303.6 151.8L303.3 152.8L302.1 154.2L302.3 154.8L303.9 156.2L304.4 157.2L303.7 158.2L302.2 159.4L296.8 160.8L289.8 161.4L259.8 162.2L226.2 162.5L204.8 163.3ZM210 155.2L212.5 154.8L212.9 154.2L211.4 153.8L208.2 153.4L191.8 153.4L174.8 153.4L171.5 153.8L170 154.2L170.4 154.8L170.8 154.8L172.8 155.2L174.8 155.4L203.8 155.4L210 155.2Z"/>
<path fill="rgb(133,133,133)" d="M461.2 94.3L431.8 94.3L430.2 94.1L428.2 93.6L425.2 92.1L422.2 89.3L420.5 87.2L419.2 85.4L415.9 79.8L408.7 65.8L404.9 59.2L401.2 53.9L398.8 50.8L395.8 47.8L393.8 46.3L391.2 45L388.8 44.9L351.8 44.9L331.2 45L301.2 44.9L266.8 45.1L246.2 45L243.8 45.1L218.8 44.8L216.2 45L213.8 44.9L211.8 45L209.2 44.9L207.2 45.1L204.8 45L202.2 45.1L200.2 45L193.2 45.2L191.2 45L188.8 45.1L177.2 44.8L147.2 45.1L112.8 44.6L73.2 44.6L72.8 44.6L72.6 42.8L72.5 38.8L72.8 35.4L112.8 35.4L147.2 34.9L177.2 35.2L188.8 34.9L191.2 35L193.2 34.8L200.2 35L202.2 34.9L204.8 35L207.2 34.9L209.2 35.1L211.8 35L213.8 35.1L216.2 35L218.8 35.2L239.2 34.9L255.2 35L262.2 34.9L301.2 35.1L386.2 35L391.8 35.2L394.2 36L397.8 38.1L399.2 39.5L401.9 42.8L403.6 45.2L406.8 50.9L413.9 64.8L418.7 72.8L423.3 78.8L427.2 82.4L428.8 83.5L431.2 84.5L462.2 84.6L462.5 88.8L462.3 93.8L462.2 94.2L461.2 94.3ZM202.2 162.8L189.8 162.8L149.8 161.8L136.1 160.8L120.3 159.2L98.2 156.4L72.8 156.3L72.8 152.4L98.2 152.3L108.8 151.1L120.2 149.5L144.8 147.2L150.2 146.9L189.2 145.6L204.8 145.5L225.8 146.4L249.8 147.2L267.8 146.7L280.2 146.7L298.2 145.9L304.7 145.2L307.1 144.8L307.6 144.2L306.3 143.8L300.8 142.2L299.8 141.8L299.4 141.2L299.7 140.8L300.6 140.2L304.4 139.2L308.8 138.5L311.2 138.1L318.2 137.7L462.2 137.6L462.4 138.8L462.5 143.2L462.2 146.6L355.8 146.7L341.8 147L316.8 147L311.1 147.2L304.8 147.8L301.2 148.2L299.4 148.8L299.4 149.2L301.2 150.1L302.2 150.8L302.6 151.8L302.5 152.2L301.8 153L299 153.8L298.3 154.2L298.6 154.8L299.2 155L301.2 155.4L302.2 155.8L303.1 156.8L303 157.8L302.2 158.5L301.2 159L296.8 160.2L293.6 160.8L289.8 161.1L261.4 161.8L227.2 162.1L202.2 162.8ZM205.7 155.8L209.8 155.7L213.3 155.2L215.2 154.8L215.5 154.2L214.2 153.7L209.2 153.1L191.8 153L173.8 153.1L169.2 153.7L168 154.2L168.2 154.8L169.8 155.2L174.2 155.7L205.7 155.8Z"/>
<path fill="rgb(143,143,143)" d="M462.2 93.9L431.8 94L430.2 93.8L428.2 93.2L426.8 92.6L425.3 91.8L421.8 88.3L419.4 85.2L416.2 79.9L409.5 66.8L405.8 60.2L401 53.2L398.8 50.4L395.5 47.2L394.2 46.2L391.2 44.7L388.8 44.6L331.2 44.7L301.2 44.6L275.8 44.8L255.2 44.6L252.8 44.7L250.8 44.6L248.2 44.7L246.2 44.6L243.8 44.7L236.8 44.5L234.8 44.6L232.2 44.5L229.8 44.6L227.8 44.4L225.2 44.5L223.2 44.4L220.8 44.5L218.8 44.3L216.2 44.5L209.2 44.4L207.2 44.6L204.8 44.5L202.2 44.6L200.2 44.5L197.8 44.7L195.8 44.6L193.2 44.7L190.8 44.5L188.8 44.6L186.2 44.5L183.8 44.6L181.8 44.4L179.2 44.5L177.2 44.4L147.2 44.7L112.8 44.4L73.2 44.3L72.8 44.3L72.6 42.8L72.5 38.8L72.8 35.7L112.8 35.6L147.2 35.3L177.2 35.6L183.8 35.4L186.2 35.5L188.8 35.4L191.2 35.5L193.2 35.3L200.2 35.5L202.2 35.4L204.8 35.5L207.2 35.4L209.2 35.6L211.8 35.4L213.8 35.6L216.2 35.5L218.8 35.7L225.2 35.5L227.8 35.6L229.8 35.4L232.2 35.5L234.8 35.4L236.8 35.5L239.2 35.3L241.2 35.4L243.8 35.3L246.2 35.4L248.2 35.3L250.8 35.4L266.8 35.2L301.2 35.4L386.2 35.3L391.8 35.5L394.2 36.3L397.5 38.2L399.1 39.8L402 43.2L403.3 45.2L406.8 51.4L414 65.2L418.5 72.8L423.2 79L427.2 82.8L428.8 83.8L431.2 84.8L462.2 84.9L462.5 89.2L462.2 93.9ZM217.8 161.8L189.8 162.1L147.2 160.9L135.8 160.1L121.5 158.8L98.2 155.8L92.8 155.6L72.8 155.6L72.8 153.2L92.8 153.2L98.2 153L123.2 149.8L140.5 148.2L150.2 147.6L189.2 146.4L199.8 146.3L210.8 146.4L249.8 147.5L262.2 147L280.2 146.8L299.2 146L305.7 145.2L308.2 144.8L308.9 144.2L302.6 142.2L301.6 141.8L301.2 141.2L301.5 140.8L302.5 140.2L306.1 139.2L309.8 138.6L318.2 138L462.2 137.8L462.4 138.8L462.5 143.2L462.2 146.4L355.8 146.4L341.8 146.8L316.2 147L310.2 147.2L303.3 147.8L299.1 148.2L297.1 148.8L297.1 149.2L297.8 149.8L298.8 150.2L300.8 150.8L301.4 151.2L301.5 151.8L301.2 152.2L300.8 152.5L298.2 152.9L294.6 154.2L294.9 154.8L298.2 155.8L301.3 156.2L302 156.8L302.1 157.2L301.9 157.8L301.1 158.2L299.2 158.6L295.9 159.8L293.4 160.2L289.8 160.6L265.2 161.2L217.8 161.8ZM212.9 155.8L216.6 155.2L218.1 154.8L218.4 154.2L217.3 153.8L215.2 153.3L209.8 152.8L191.8 152.7L173.8 152.8L168.6 153.2L166.8 153.8L166.1 154.2L166.2 154.8L168.2 155.5L174.2 156.1L203.8 156.1L209.2 156.1L212.9 155.8Z"/>
<path fill="rgb(153,153,153)" d="M455.2 93.8L431.2 93.7L427.8 92.8L425.1 91.2L421.8 87.9L419.7 85.2L416.2 79.5L409.9 67.2L405.8 59.9L400.9 52.8L399.4 50.8L395.8 47.1L394.2 46L391.2 44.5L388.8 44.3L331.2 44.4L301.2 44.2L285.2 44.4L269.2 44.2L266.8 44.4L255.2 44.2L252.8 44.3L250.8 44.1L248.2 44.3L246.2 44.1L243.8 44.3L241.2 44.1L239.2 44.2L236.8 44L234.8 44.2L232.2 44L229.8 44.1L227.8 43.9L225.2 44.1L223.2 43.9L220.8 44L218.8 43.8L216.2 44L213.8 43.9L211.8 44.1L209.2 43.9L207.2 44.1L204.8 43.9L202.2 44.1L200.2 44L197.8 44.2L195.8 44L193.2 44.2L190.8 44L188.8 44.2L186.2 44L184.2 44.1L181.8 43.9L179.2 44.1L177.2 43.9L174.8 44L172.8 43.9L170.2 44.1L167.8 44L165.8 44.2L163.2 44.1L161.2 44.2L158.8 44.1L147.2 44.3L112.8 44.1L73.2 44.1L72.8 44L72.6 42.8L72.5 39.2L72.8 36L112.8 35.9L147.2 35.7L158.8 35.9L161.2 35.8L163.2 35.9L165.8 35.8L167.8 36L170.2 35.9L172.8 36.1L174.8 36L177.2 36.1L179.2 35.9L181.8 36.1L184.2 35.9L186.2 36L188.8 35.8L190.8 36L193.2 35.8L195.8 36L197.8 35.8L200.2 36L202.2 35.9L204.8 36.1L207.2 35.9L209.2 36.1L211.8 35.9L213.8 36.1L216.2 36L218.8 36.2L220.8 36L223.2 36.1L225.2 35.9L227.8 36.1L229.8 35.9L232.2 36L234.8 35.8L236.8 36L239.2 35.8L241.2 35.9L243.8 35.7L246.2 35.9L248.2 35.7L250.8 35.9L252.8 35.7L255.2 35.8L257.8 35.7L259.8 35.8L271.2 35.6L301.2 35.8L326.8 35.6L347.2 35.7L386.2 35.6L391.8 35.8L394.2 36.6L397.2 38.4L398.8 39.8L401.6 43.2L403.2 45.6L406.8 51.8L413.7 65.2L418.3 72.8L423.2 79.3L427.8 83.5L428.8 84.1L431.2 85.1L462.2 85.1L462.5 89.2L462.2 93.7L455.2 93.8ZM248.8 160.8L189.2 161.1L147.8 160.1L123.8 158.3L106.2 156.3L101 155.2L99.8 154.8L99.6 154.2L100.8 153.6L105.8 152.5L118.2 151L135.8 149.4L148.2 148.6L194.8 147.4L223.8 147.5L249.8 148.1L252.8 147.7L259 147.2L280.2 146.9L299.8 146.1L306.6 145.2L309.3 144.8L310.2 144.2L309.1 143.8L305.7 142.8L303.4 141.8L303.1 141.2L303.4 140.8L304.3 140.2L307.2 139.4L310.7 138.8L317.8 138.2L325.2 138.1L462.2 138.1L462.3 138.8L462.5 142.8L462.2 146.1L355.8 146.1L341.8 146.7L315.2 146.9L301.6 147.8L296.7 148.2L294.4 148.8L294.7 149.2L296.2 149.9L297.4 150.8L297.8 151.2L297.8 151.8L297.4 152.2L295.8 153.1L289.8 153.9L286.2 153.6L283.2 153.8L280.2 153.6L277.2 153.7L274.2 153.6L271.2 153.7L256.8 153.5L223.8 153.5L209.2 152.3L194.8 152.4L191.8 152.3L188.8 152.4L185.8 152.3L182.8 152.4L174.2 152.4L168.8 152.8L164.2 153.8L163.1 154.2L163.4 154.8L168.2 156L173.8 156.4L177.2 156.3L179.8 156.5L182.8 156.4L185.8 156.5L188.8 156.4L191.8 156.5L194.8 156.4L197.8 156.5L200.8 156.4L209.2 156.5L215.2 156.1L219.8 155.5L223.8 155.3L262.8 155.3L265.8 155.1L268.2 155.3L271.2 155.1L274.2 155.3L277.2 155L280.2 155.2L283.2 155L286.2 155.2L289.2 154.9L295.8 155.7L297.2 156.2L298 156.8L298.4 157.2L297.5 158.2L295.8 159.1L290.2 160L248.8 160.8Z"/>
<path fill="rgb(163,163,163)" d="M462.2 93.4L431.8 93.5L428.2 92.6L425.8 91.4L422.8 88.7L420 85.2L416.4 79.2L410.2 67.2L405.9 59.8L400.9 52.2L399.7 50.8L395.8 46.7L392.8 44.8L391.2 44.2L388.8 44L331.2 44.1L301.2 43.9L289.8 44.1L278.2 43.9L275.8 44L273.8 43.9L271.2 44L269.2 43.8L266.8 44L259.8 43.8L257.8 43.9L255.2 43.7L252.8 43.9L250.8 43.7L248.2 43.8L246.2 43.7L243.8 43.8L241.2 43.6L239.2 43.8L236.8 43.5L234.8 43.7L232.2 43.5L229.8 43.6L227.8 43.4L225.2 43.5L223.2 43.3L220.8 43.5L218.8 43.3L216.2 43.5L213.8 43.3L211.8 43.5L209.2 43.3L207.2 43.6L204.8 43.4L202.2 43.6L200.2 43.4L197.8 43.7L195.8 43.5L193.2 43.7L190.8 43.4L188.8 43.6L186.2 43.4L184.2 43.6L181.8 43.4L179.2 43.6L176.8 43.4L174.8 43.5L172.2 43.4L170.2 43.7L167.8 43.5L165.8 43.7L163.2 43.6L161.2 43.8L158.8 43.7L156.2 43.9L154.2 43.8L151.8 44L144.8 43.9L142.8 44L73.2 43.8L72.8 43.8L72.6 42.8L72.6 39.2L72.8 36.2L142.8 36L144.8 36.1L151.8 36L154.2 36.2L156.2 36.1L158.8 36.3L161.2 36.2L163.2 36.4L165.8 36.3L167.8 36.5L170.2 36.3L172.2 36.6L174.8 36.5L176.8 36.6L179.2 36.4L181.8 36.6L184.2 36.4L186.2 36.6L188.8 36.4L190.8 36.6L193.2 36.3L195.8 36.5L197.8 36.3L200.2 36.6L202.2 36.4L204.8 36.6L207.2 36.4L209.2 36.7L211.8 36.5L213.8 36.7L216.2 36.5L218.8 36.7L220.8 36.5L223.2 36.7L225.2 36.5L227.8 36.6L229.8 36.4L232.2 36.5L234.8 36.3L236.8 36.5L239.2 36.2L241.2 36.4L243.8 36.2L246.2 36.3L248.2 36.2L250.8 36.3L252.8 36.1L255.2 36.3L257.8 36.1L259.8 36.2L262.2 36.1L264.2 36.2L275.8 36L278.2 36.1L280.8 36L301.2 36.1L331.2 35.9L391.2 36L393.8 36.7L396.8 38.4L398.8 40.1L401.3 43.2L403 45.8L406.8 52.2L413.5 65.2L418 72.8L423.2 79.7L427.2 83.4L428.8 84.4L431.2 85.4L462.2 85.4L462.4 89.2L462.2 93.4ZM224.2 160.3L221.2 159.9L218.2 160.3L215.2 160L212.2 160.3L209.2 160L206.8 160.3L203.8 160L200.2 160.3L197.8 160L194.8 160.3L191.8 160L188.8 160.3L185.8 159.9L182.8 160.2L179.8 159.8L177.2 160.1L174.2 159.7L171.2 160L168.2 159.6L165.2 159.8L162.2 159.5L159.2 159.7L156.2 159.4L153.8 159.5L150.8 159.2L147.2 159.2L138.8 158.6L135.8 158.6L132.8 158.2L129.8 158.1L126.8 157.7L124.2 157.7L120.8 157.2L118.2 157.1L114.8 156.5L111.8 156.4L109.2 155.9L105.8 155.7L104.5 155.2L103.8 154.8L103.6 154.2L104.8 153.5L106.2 153L109.2 152.9L112.2 152.3L115.2 152.2L118.2 151.7L120.8 151.6L124.2 151.1L126.8 151L129.8 150.6L132.8 150.6L135.8 150.2L138.8 150.2L147.8 149.5L150.2 149.6L153.8 149.3L156.2 149.4L159.2 149.1L162.2 149.2L165.2 148.9L168.2 149.1L171.2 148.8L174.2 149L177.2 148.7L179.8 148.9L182.8 148.5L185.8 148.8L188.8 148.4L191.8 148.7L194.8 148.4L197.8 148.7L200.8 148.4L203.8 148.7L206.2 148.4L209.2 148.7L212.2 148.4L215.2 148.7L218.2 148.4L221.2 148.7L224.2 148.4L227.2 148.7L229.8 148.4L233.2 148.7L235.8 148.4L238.8 148.8L241.8 148.5L244.8 148.9L247.8 148.6L250.2 148.9L256.5 147.8L263.7 147.2L280.2 147L299.8 146.2L307.5 145.2L310.4 144.8L311.5 144.2L310.5 143.8L307 142.8L305 141.8L304.7 141.2L304.9 140.8L305.8 140.2L307.3 139.8L310.8 139.1L317.8 138.5L325.2 138.4L462.2 138.3L462.3 139.2L462.4 142.8L462.2 145.9L355.8 145.9L341.2 146.6L315.2 146.8L304.2 147.4L289.2 148.8L289.5 149.2L291.8 149.8L295.2 150.3L296.1 150.8L296.5 151.2L296.5 151.8L295.8 152.4L294.2 152.7L292.2 152.6L289.8 153.1L286.2 152.8L283.2 153.1L280.2 152.7L277.2 153L274.2 152.7L271.2 152.9L268.8 152.6L265.8 152.9L262.8 152.6L259.8 152.8L256.8 152.5L253.8 152.8L250.8 152.5L247.8 152.7L244.8 152.5L241.8 152.7L239.2 152.4L235.8 152.7L232.8 152.4L230.2 152.7L227.2 152.4L224.2 152.7L221.2 152.4L218.2 152.5L215.2 152.1L212.2 152.2L209.2 151.8L206.2 152.1L203.2 151.8L200.8 152.1L197.8 151.8L194.8 152.1L191.8 151.8L188.8 152.1L185.8 151.8L182.8 152.1L179.8 151.8L177.2 152.1L174.2 151.9L171.2 152.3L168.2 152.3L165.2 152.8L162.2 153L157.1 153.8L156 154.2L156.2 154.8L156.8 154.9L161.8 155.8L165.2 156L168.2 156.6L171.2 156.5L174.2 156.9L177.2 156.7L180.2 157L182.8 156.7L185.8 157L188.8 156.7L191.8 157L194.8 156.7L197.8 157L200.8 156.7L203.8 157L206.8 156.7L209.2 157L212.2 156.6L215.2 156.7L218.2 156.3L221.2 156.4L224.2 156.1L227.2 156.4L230.2 156.1L232.8 156.4L236.2 156.1L239.2 156.4L241.8 156.1L244.8 156.3L247.8 156.1L250.8 156.3L253.8 156L256.8 156.3L259.8 156L262.8 156.2L265.8 155.9L268.2 156.2L271.2 155.9L274.2 156.1L277.2 155.8L280.2 156.1L283.2 155.7L286.2 156L289.2 155.7L292.2 156.2L295.2 156.2L296.4 156.8L296.7 157.2L296.5 157.8L296.2 158L295.2 158.5L292.2 158.8L289.2 159.4L286.2 159.1L283.2 159.5L280.2 159.3L277.2 159.6L274.2 159.4L271.2 159.7L268.2 159.5L265.2 159.8L262.8 159.6L259.8 159.9L256.8 159.6L253.8 160L250.8 159.7L247.8 160.1L244.8 159.8L241.8 160.2L238.8 159.9L236.2 160.2L233.2 159.9L229.8 160.2L227.2 159.9L224.2 160.3ZM288.2 149.2L287.8 149L286.8 148.8L285 149.2L286.2 149.5L288.2 149.2Z"/>
<path fill="rgb(173,173,173)" d="M462.2 93.1L431.8 93.2L428.8 92.5L426 91.2L424.8 90.3L422.8 88.3L420.3 85.2L416.6 79.2L410.2 67L405.9 59.2L401.2 52.2L399.8 50.5L395.8 46.4L392.8 44.5L391.2 43.9L388.8 43.7L331.2 43.8L310.2 43.6L308.2 43.7L305.8 43.6L303.8 43.7L301.2 43.6L289.8 43.7L282.8 43.5L280.8 43.7L278.2 43.5L275.8 43.6L269.2 43.4L266.8 43.6L264.2 43.4L262.2 43.5L259.8 43.3L257.8 43.5L255.2 43.3L252.8 43.4L250.8 43.2L248.2 43.4L246.2 43.2L243.8 43.3L241.2 43.1L239.2 43.3L236.8 43L234.2 43.2L232.2 42.9L229.8 43.1L227.8 42.8L225.2 43L223.2 42.7L220.8 42.9L218.8 42.6L216.2 42.9L213.8 42.7L211.8 42.9L209.2 42.7L207.2 43L204.8 42.8L202.2 43L200.2 42.8L197.8 43.1L195.8 42.9L193.2 43.1L190.8 42.8L188.8 43.1L186.2 42.8L184.2 43.1L181.8 42.8L179.2 43L177.2 42.8L174.8 43L172.2 42.9L170.2 43.2L167.8 43L165.8 43.3L163.2 43.2L161.2 43.4L158.8 43.3L156.2 43.5L154.2 43.4L151.8 43.6L149.8 43.4L142.8 43.7L73.2 43.6L72.8 43.5L72.7 42.8L72.6 39.2L72.8 36.5L142.8 36.3L149.8 36.6L151.8 36.4L154.2 36.6L156.2 36.5L158.8 36.7L161.2 36.6L163.2 36.8L165.8 36.7L167.8 37L170.2 36.8L172.2 37.1L174.8 37L177.2 37.2L179.2 37L181.8 37.2L184.2 36.9L186.2 37.2L188.8 36.9L190.8 37.2L193.2 36.9L195.8 37.1L197.8 36.9L200.2 37.2L202.2 37L204.8 37.2L207.2 37L209.2 37.3L211.8 37.1L213.8 37.3L216.2 37.1L218.8 37.4L220.8 37.1L223.2 37.3L225.2 37L227.8 37.2L229.8 36.9L232.2 37.1L234.2 36.8L236.8 37L239.2 36.7L241.2 36.9L243.8 36.7L246.2 36.8L248.2 36.6L250.8 36.8L252.8 36.6L255.2 36.7L257.8 36.5L259.8 36.7L262.2 36.5L264.2 36.6L266.8 36.4L269.2 36.6L271.2 36.4L273.8 36.5L280.8 36.3L282.8 36.5L285.2 36.3L301.2 36.4L303.8 36.3L305.8 36.4L308.2 36.3L310.2 36.4L331.2 36.2L391.2 36.3L392.8 36.6L394.2 37.2L397.2 39.1L398.8 40.5L401.8 44.2L406.5 52.2L413.6 65.8L418.1 73.2L423 79.8L427.2 83.8L428.8 84.7L431.2 85.6L462.2 85.7L462.4 89.2L462.2 93.1ZM272.2 148.8L271.2 148.9L268.2 148.8L265.2 149.2L263.9 148.8L259.8 148.6L259.1 148.2L260.8 147.8L267.8 147.3L280.2 147.2L297.2 146.5L308.5 145.2L311.6 144.8L313 144.2L312.1 143.8L307.1 142.2L306.3 141.8L306.1 141.2L306.4 140.8L307.8 140.1L310.8 139.4L318.2 138.7L462.2 138.6L462.4 140.2L462.2 145.6L354.2 145.6L341.2 146.4L314.8 146.7L290.8 148.2L272.2 148.8ZM259.8 159.3L258.2 159L256.8 158.4L254.8 159.2L253.8 159.4L252.7 159.2L250.8 158.5L248.2 159.4L246.8 159.3L244.8 158.5L243.3 159.2L242.2 159.5L240.8 159.4L239.2 158.7L238.8 158.7L237.6 159.2L236.2 159.6L234.8 159.4L233.2 158.7L230.2 159.6L228.8 159.3L227.2 158.7L225.2 159.4L224.2 159.6L223.2 159.5L221.2 158.7L219.2 159.5L218.2 159.6L217.2 159.4L215.2 158.7L213.8 159.4L212.2 159.6L211.2 159.4L209.2 158.6L208.1 159.2L206.8 159.6L205.2 159.4L203.8 158.6L201.8 159.4L200.8 159.6L199.2 159.4L197.8 158.6L195.8 159.5L194.8 159.6L193.2 159.3L191.8 158.6L190.2 159.3L188.8 159.6L187.8 159.4L185.8 158.6L184.5 159.2L183.2 159.5L181.8 159.3L180.2 158.6L179.8 158.6L178.2 159.2L177.2 159.4L176.1 159.2L174.2 158.5L171.2 159.2L170.2 159.1L168.2 158.5L165.8 159.1L164.2 159L162.2 158.5L159.2 158.9L156.2 158.3L153.8 158.7L150.2 158.1L147.8 158.4L144.8 157.9L141.8 158.1L138.8 157.6L135.8 157.8L132.8 157.2L130.2 157.4L126.8 156.8L123.8 157L120.8 156.4L117.8 156.4L115.2 155.8L111.8 155.8L108.8 155.1L106.8 155.2L105.5 154.8L105.4 154.2L106.2 153.7L109.2 153.6L111.8 153L114.8 153L117.8 152.4L120.8 152.4L124.2 151.8L126.8 152L129.8 151.4L132.8 151.6L135.8 151L138.8 151.2L141.8 150.6L144.8 150.9L147.8 150.3L150.2 150.6L153.2 150.1L156.2 150.4L159.2 149.9L162.2 150.3L165.2 149.7L168.2 150.2L170.2 149.6L171.2 149.5L174.2 150.2L175.8 149.6L177.2 149.4L178.2 149.6L179.8 150.2L182.8 149.2L184.2 149.4L185.8 150.1L187.8 149.3L188.8 149.2L189.8 149.3L191.8 150.1L193.8 149.3L194.8 149.1L195.8 149.3L197.8 150.1L199.7 149.2L200.8 149.1L201.8 149.3L203.2 150L203.8 150.1L205.2 149.3L206.2 149.1L207.8 149.3L209.2 150.1L209.8 150L211.2 149.3L212.2 149.1L213.3 149.2L215.2 150.1L217.2 149.3L218.2 149.1L219.2 149.3L221.2 150.1L223.2 149.2L224.2 149.1L225.2 149.3L227.2 150L228.8 149.4L229.8 149.2L231 149.2L232.8 150L233.2 150L234.8 149.4L236.2 149.2L237.2 149.4L238.8 150.1L239.2 150L240.8 149.4L241.8 149.2L242.8 149.3L244.8 150.2L246.8 149.4L247.8 149.3L248.8 149.5L250.8 150.2L252.8 149.4L253.8 149.3L254.8 149.4L256.8 150.3L258.8 149.4L259.8 149.2L260.8 149.5L262.2 150.4L262.8 150.4L264.8 149.4L265.8 149.3L268.2 150.6L268.8 150.5L270.2 149.8L271.2 149.5L272.8 149.9L274.2 150.7L276.8 149.8L278.2 149.9L280.2 150.8L282.2 150L283.2 149.9L284.2 150.1L286.2 151L287.8 150.2L289.2 150.1L290.8 150.5L291.6 151.2L291.5 151.8L290.7 152.2L289.2 152.5L287.8 152.3L286.2 151.6L284.6 152.2L283.2 152.5L281.8 152.2L280.2 151.5L278.5 152.2L277.2 152.4L276.2 152.2L274.2 151.5L272.3 152.2L271.2 152.3L268.2 151.5L266.8 152.1L265.8 152.3L264.2 152.1L262.8 151.4L259.8 152.2L258.2 152L256.8 151.4L254.8 152L253.8 152.1L252.8 152L250.8 151.3L248.8 152L247.8 152.1L246.8 151.9L244.8 151.3L242.2 152L240.8 151.8L238.8 151.2L237.4 151.8L236.2 152L234.8 151.8L233.2 151.2L230.2 152L228.8 151.8L227.2 151.2L225.2 151.9L224.2 152L223.2 151.9L221.2 151.2L219.2 151.8L217.8 151.9L215.2 151L212.8 151.7L211.2 151.6L209.8 150.9L209.2 150.9L208.5 151.2L206.8 151.6L205.2 151.5L203.8 150.9L200.8 151.6L199.2 151.4L197.8 150.9L195.8 151.5L194.8 151.6L193.2 151.4L191.8 150.8L190.2 151.4L188.8 151.6L187.8 151.5L185.8 150.8L184.2 151.4L182.8 151.7L179.8 150.9L177.2 151.7L176.2 151.7L174.2 151.1L171.2 151.8L169.8 151.8L168.2 151.4L165.2 152.2L162.2 151.9L159.2 152.5L156.2 152.4L153.2 153.1L150.2 152.9L147.2 153.5L144.2 153.2L141.2 153.9L138.8 153.5L137.7 153.8L136.9 154.2L137.1 154.8L138.8 155.3L141.8 154.9L144.2 155.6L147.2 155.3L150.2 155.9L153.2 155.7L156.2 156.5L159.2 156.2L162.2 156.9L165.2 156.6L168.2 157.4L171.2 157L174.2 157.7L175.8 157.2L177.2 157.1L178.3 157.2L179.8 157.8L181.8 157.2L183.2 157.2L184.2 157.4L185.8 158L187.8 157.3L188.8 157.2L189.8 157.2L191.8 158L193.7 157.2L194.8 157.2L195.8 157.3L197.8 158L199.6 157.2L200.8 157.2L201.8 157.3L203.2 158L203.8 158L205.5 157.2L207.2 157.2L209.2 158L209.8 157.9L211.2 157.2L212.2 157.1L213.8 157.2L215.2 157.8L217.2 157.1L218.8 156.9L221.2 157.7L223.2 156.9L224.2 156.8L225.2 157L227.2 157.6L228.8 157L230.2 156.8L233.2 157.6L234.8 157L236.2 156.8L237.2 157L238.8 157.6L239.2 157.6L240.8 157L242.2 156.8L244.8 157.6L247.2 156.8L248.8 156.8L250.8 157.5L252.8 156.8L253.8 156.7L254.8 156.8L256.8 157.5L258.5 156.8L259.8 156.6L260.8 156.7L262.2 157.3L262.8 157.4L264.1 156.8L265.2 156.5L266.8 156.7L268.2 157.3L270.2 156.6L271.8 156.5L274.2 157.2L276.2 156.5L277.2 156.4L278.2 156.5L280.2 157.2L282.2 156.4L283.2 156.3L284.2 156.4L286.2 157.2L287.8 156.5L289.2 156.2L290.8 156.6L291.6 157.2L291.5 157.8L290.9 158.2L289.2 158.7L287.8 158.5L286.2 157.9L284.2 158.7L282.8 158.8L280.2 158L278.5 158.8L277.2 159L275.9 158.8L274.2 158.1L272.9 158.8L271.8 159L270.2 158.9L268.8 158.3L268.2 158.3L266.8 158.9L265.2 159.2L264.2 159L262.8 158.3L259.8 159.3ZM294.8 151.8L293.6 151.8L293.4 151.2L294.2 151L294.8 151.1L295 151.2L294.8 151.8ZM294.2 157.8L293.7 157.8L293.4 157.2L294.2 157L295.1 157.2L294.8 157.7L294.2 157.8Z"/>
<path fill="rgb(184,184,184)" d="M462.2 92.8L432.2 92.9L429.2 92.4L426.2 91.1L424.8 89.9L423.1 88.2L420.6 85.2L416.8 79L410.4 66.8L406.1 59.2L401.1 51.8L396 46.2L392.8 44.2L391.2 43.6L388.8 43.4L358.8 43.5L333.2 43.4L331.2 43.5L315.2 43.3L312.8 43.4L310.2 43.3L308.2 43.4L305.8 43.3L303.8 43.4L301.2 43.2L294.2 43.4L291.8 43.2L289.8 43.4L287.2 43.2L285.2 43.3L278.2 43.1L275.8 43.2L273.8 43L271.2 43.2L269.2 43L266.8 43.1L264.2 42.9L262.2 43.1L259.8 42.8L257.8 43L255.2 42.8L252.8 42.9L250.8 42.7L248.2 42.9L246.2 42.6L243.8 42.8L241.2 42.5L239.2 42.7L237.2 42.4L234.8 42.6L232.2 42.3L229.8 42.5L227.8 42.1L225.2 42.3L223.2 41.9L220.8 42.2L218.8 41.9L216.2 42.2L213.8 41.9L211.8 42.3L209.2 41.9L207.2 42.3L204.8 42L202.2 42.4L199.8 42.1L197.8 42.4L195.8 42.1L193.2 42.4L190.8 42.1L188.8 42.4L186.2 42.1L184.2 42.4L181.8 42.1L179.2 42.4L177.2 42.1L174.8 42.4L172.2 42.3L170.2 42.6L167.8 42.5L165.8 42.8L163.2 42.6L161.2 42.9L158.8 42.8L156.2 43L154.2 42.9L151.8 43.2L149.8 43L142.8 43.3L140.2 43.2L138.2 43.3L135.8 43.2L128.8 43.4L73.2 43.3L72.8 43.3L72.7 42.8L72.6 39.8L72.8 36.7L128.8 36.6L135.8 36.8L138.2 36.7L140.2 36.8L142.8 36.7L149.8 37L151.8 36.8L154.2 37.1L156.2 37L158.8 37.2L161.2 37.1L163.2 37.4L165.8 37.2L167.8 37.5L170.2 37.4L172.2 37.7L174.8 37.6L177.2 37.9L179.2 37.6L181.8 37.9L184.2 37.6L186.2 37.9L188.8 37.6L190.8 37.9L193.2 37.6L195.8 37.9L197.8 37.6L199.8 37.9L202.2 37.6L204.8 38L207.2 37.7L209.2 38.1L211.8 37.7L213.8 38.1L216.2 37.8L218.8 38.1L220.8 37.8L223.2 38.1L225.2 37.7L227.8 37.9L229.8 37.5L232.2 37.7L234.8 37.4L237.2 37.6L239.2 37.3L241.2 37.5L243.8 37.2L246.2 37.4L248.2 37.1L250.8 37.3L252.8 37.1L255.2 37.2L257.8 37L259.8 37.2L262.2 36.9L264.2 37.1L266.8 36.9L269.2 37L271.2 36.8L273.8 37L275.8 36.8L278.2 36.9L285.2 36.7L287.2 36.8L289.8 36.6L291.8 36.8L294.2 36.6L301.2 36.8L303.8 36.6L305.8 36.7L308.2 36.6L310.2 36.7L312.8 36.6L315.2 36.7L331.2 36.5L333.2 36.6L358.8 36.5L391.2 36.6L393.5 37.2L397 39.2L398.8 40.9L401.4 44.2L402.8 46.2L406.2 52.3L413 65.2L417.8 73.2L422.8 79.9L427.2 84.1L428.8 85L431.2 85.9L462.2 86L462.4 89.2L462.2 92.8ZM271.8 148.3L267.5 148.2L266.2 148.1L265.5 147.8L280.2 147.5L294.8 146.9L300.2 146.5L312.8 144.8L314.4 144.2L313.9 143.8L310.8 143L308.5 142.2L307.7 141.8L307.5 141.2L307.8 140.8L308.8 140.2L310.8 139.7L318.2 139L462.2 138.8L462.4 140.8L462.2 145.4L354.2 145.4L348.2 146L341.2 146.3L315.2 146.6L295.2 147.5L290.8 147.8L271.8 148.3ZM183.2 150.9L182.2 150.8L182.3 150.2L182.8 150.1L183.5 150.2L183.6 150.8L183.2 150.9ZM189.2 150.9L188.1 150.8L188.1 150.2L188.8 150L189.5 150.2L189.5 150.8L189.2 150.9ZM195.2 150.8L194.8 150.9L194 150.8L193.9 150.2L194.8 150L195.2 150.1L195.5 150.2L195.4 150.8L195.2 150.8ZM201.2 150.8L200.8 150.9L199.9 150.8L199.8 150.2L200.8 150L201.2 150.2L201.2 150.8ZM207.2 150.8L206.8 150.9L205.8 150.8L205.7 150.2L206.8 150L207.3 150.2L207.2 150.8ZM212.8 151L211.6 150.8L211.6 150.2L212.2 150L213.2 150.2L213.2 150.8L212.8 151ZM218.8 151L217.8 151L217.4 150.8L217.5 150.2L218.2 150L219.1 150.2L219.2 150.8L218.8 151ZM224.8 151L223.8 151.1L223.3 150.8L223.4 150.2L224.2 150L225 150.2L225.1 150.8L224.8 151ZM230.8 151L229.8 151.1L229.2 150.8L229.3 150.2L230.2 150L230.8 150.1L231 150.8L230.8 151ZM236.8 150.9L235.8 151.1L235.1 150.8L235.2 150.2L235.8 150L236.8 150.2L236.9 150.8L236.8 150.9ZM242.8 150.8L241.8 151.2L241 150.8L241.1 150.2L241.8 150.1L242.6 150.2L242.8 150.8ZM247.8 151.3L246.9 150.8L247.2 150.2L248.4 150.2L248.8 150.8L248.2 151.2L247.8 151.3ZM254.2 151.3L253.2 151.3L252.7 150.8L253.2 150.3L254 150.2L254.6 150.8L254.2 151.3ZM165.2 151.3L164.8 151.2L164.8 150.8L165.6 150.8L165.5 151.2L165.2 151.3ZM171.2 150.9L170.6 150.8L171.2 150.6L171.7 150.8L171.2 150.9ZM177.2 150.9L176.4 150.8L176.8 150.4L177.2 150.3L177.7 150.8L177.2 150.9ZM260.2 151.3L259.2 151.4L258.9 151.2L258.7 150.8L259.2 150.4L259.8 150.3L260.5 150.8L260.2 151.3ZM266.2 151.3L265.2 151.4L264.7 151.2L264.7 150.8L265.2 150.5L265.8 150.5L266.3 150.8L266.2 151.3ZM272.2 151.3L271.2 151.5L270.6 151.2L270.7 150.8L271.2 150.6L272.1 150.8L272.2 151.3ZM277.8 151.5L277.2 151.6L276.5 151.2L276.8 150.7L277.8 150.7L278.2 151.2L277.8 151.5ZM153.8 151.8L152.7 151.8L152.8 151.2L154 151.2L153.8 151.8ZM159.8 151.3L159.2 151.4L158.6 151.2L159.2 150.9L159.8 151.1L159.9 151.2L159.8 151.3ZM283.2 151.8L282.4 151.2L282.8 150.9L283.2 150.8L283.8 151L284 151.2L283.2 151.8ZM289.2 151.8L288.7 151.8L288.3 151.2L289.2 150.9L289.9 151.2L289.5 151.8L289.2 151.8ZM142.2 152.3L141.2 152.5L140.7 152.2L141 151.8L141.8 151.6L142.3 151.8L142.4 152.2L142.2 152.3ZM148.2 151.9L147.8 152.2L147.2 152.2L146.6 151.8L147.2 151.4L147.8 151.4L148.2 151.6L148.4 151.8L148.2 151.9ZM135.8 152.8L135.1 152.8L134.9 152.2L135.8 152L136.6 152.2L136.2 152.7L135.8 152.8ZM124.8 156L124.2 156.1L123.2 156L122.8 155.8L122.3 155.2L122.3 153.8L122.5 153.2L123.4 152.8L124.2 152.7L124.8 152.8L125.2 153.2L125 154.2L125.1 155.8L124.8 156ZM130.2 153.3L129.2 153.4L128.9 153.2L128.7 152.8L129.8 152.3L130.2 152.3L130.8 152.8L130.2 153.3ZM119.2 155.5L118.2 155.7L117.2 155.5L116.1 154.8L116 154.2L116.4 153.8L117.2 153.2L118.2 153.1L119.1 153.2L119.8 153.8L120 154.2L119.9 154.8L119.2 155.5ZM113.8 154.8L112.8 155.2L111.8 155.2L110.8 154.8L110.7 154.2L111.3 153.8L112.8 153.6L113.3 153.8L113.9 154.2L113.8 154.8ZM130.2 156.4L129 156.2L128.7 155.8L129.2 155.4L130.2 155.5L130.6 155.8L130.7 156.2L130.2 156.4ZM136.2 156.8L135.1 156.8L134.8 156.2L135.8 156L136.2 156.1L136.5 156.2L136.2 156.8ZM142.2 157L141.8 157.1L140.7 156.8L141.2 156.3L141.8 156.3L142.5 156.8L142.2 157ZM148.2 157.3L147.8 157.4L146.8 157.2L146.7 156.8L147.2 156.6L148.1 156.8L148.2 157.3ZM153.8 157.6L153.2 157.6L152.6 157.2L153.2 157L153.8 157.1L154.1 157.2L153.8 157.6ZM271.2 158.3L270.5 157.8L271.1 157.2L271.8 157.2L272.3 157.8L271.8 158.2L271.2 158.3ZM277.8 158L277.2 158.1L276.4 157.8L276.8 157.2L277.8 157.2L278.1 157.8L277.8 158ZM283.8 157.9L282.8 157.9L282.4 157.8L282.5 157.2L283.2 157.1L283.9 157.2L284 157.8L283.8 157.9ZM289.2 157.9L288.5 157.8L288.4 157.2L289.2 157L289.8 157.2L289.7 157.8L289.2 157.9ZM159.8 157.8L158.7 157.8L159.2 157.3L159.8 157.6L159.8 157.8ZM165.8 157.8L165.2 158L164.6 157.8L165.2 157.6L165.8 157.8ZM171.2 158.3L171 158.2L171.1 157.8L171.3 157.8L171.2 158.3ZM218.2 158.8L217.8 158.6L217.4 158.2L217.9 157.8L218.8 157.8L219.2 158.2L218.8 158.7L218.2 158.8ZM224.2 158.8L223.8 158.7L223.3 158.2L223.7 157.8L224.8 157.7L225.1 158.2L224.8 158.6L224.2 158.8ZM230.2 158.8L229.8 158.7L229.2 158.2L229.6 157.8L230.6 157.8L231 158.2L230.2 158.8ZM236.2 158.8L235.7 158.8L235.1 158.2L235.5 157.8L236.5 157.8L236.9 158.2L236.2 158.8ZM242.8 158.3L242.2 158.7L241.8 158.7L241 158.2L241.4 157.8L241.8 157.7L242.5 157.8L242.8 158.3ZM248.2 158.5L247.2 158.5L246.9 158.2L247.1 157.8L247.8 157.6L248.5 157.8L248.7 158.2L248.2 158.5ZM254.2 158.4L253.2 158.4L252.9 158.2L252.9 157.8L253.8 157.5L254.2 157.6L254.5 157.8L254.5 158.2L254.2 158.4ZM260.2 158.3L259.2 158.4L258.9 158.2L258.7 157.8L259.2 157.5L260.2 157.6L260.5 157.8L260.2 158.3ZM265.8 158.3L264.9 158.2L264.6 157.8L265.2 157.3L265.8 157.3L266.4 157.8L266 158.2L265.8 158.3ZM177.2 158.4L176.4 158.2L176.8 157.9L177.2 157.9L177.6 158.2L177.2 158.4ZM183.2 158.6L182.8 158.6L182.1 158.2L182.8 157.9L183.2 158L183.7 158.2L183.2 158.6ZM188.8 158.8L188 158.2L188.8 157.9L189.6 158.2L189.2 158.7L188.8 158.8ZM194.8 158.8L194.2 158.7L193.9 158.2L194.8 157.9L195.5 158.2L195.2 158.6L194.8 158.8ZM200.8 158.8L200.2 158.7L199.8 158.2L200.2 157.9L200.8 157.9L201.4 158.2L200.8 158.8ZM206.8 158.8L206.2 158.8L205.7 158.2L206.2 157.9L206.8 157.9L207.3 158.2L206.8 158.8ZM212.2 158.8L211.6 158.2L211.8 158L212.2 157.8L212.8 157.8L213.3 158.2L212.8 158.7L212.2 158.8Z"/>
<path fill="rgb(194,194,194)" d="M462.2 92.5L460.2 92.6L439.2 92.5L436.8 92.6L434.8 92.5L432.2 92.6L429.2 92L426.2 90.7L423.2 88L420.9 85.2L417.2 79.2L410.4 66.2L406.4 59.2L401.4 51.8L396.2 46.1L392.8 43.8L391.2 43.3L388.8 43.1L386.2 43.2L384.2 43.1L381.8 43.2L374.8 43.1L372.8 43.2L370.2 43.1L368.2 43.2L365.8 43.1L354.2 43.2L351.8 43.1L349.8 43.2L347.2 43.1L340.2 43.2L338.2 43.1L331.2 43.2L328.8 43.1L326.8 43.2L319.8 43L317.2 43.1L315.2 43L308.2 43.1L305.8 42.9L303.8 43L301.2 42.9L294.2 43L291.8 42.8L289.8 43L287.2 42.8L285.2 42.9L282.8 42.7L280.8 42.9L278.2 42.6L275.8 42.8L273.8 42.6L271.2 42.7L269.2 42.5L266.8 42.7L264.2 42.4L261.8 42.6L259.8 42.3L257.8 42.5L255.2 42.2L252.8 42.4L250.8 42.1L248.2 42.3L246.2 41.9L243.8 42.2L241.2 41.8L239.2 42L236.8 41.6L234.8 41.9L232.2 41.4L229.8 41.7L227.8 41.1L225.2 41.5L223.2 40.8L220.8 41.3L218.8 40.4L218.2 40.4L217.2 41L216.2 41.3L215.8 41.2L214.2 40.5L213.8 40.5L212.3 41.2L211.8 41.3L210.8 41.2L209.2 40.7L207.2 41.4L206.2 41.3L204.8 40.8L202.8 41.4L201.8 41.4L200.2 40.9L197.8 41.5L195.8 41L193.2 41.6L190.8 41L188.8 41.6L186.2 41.1L184.2 41.6L181.8 41.2L179.2 41.6L177.2 41.2L174.8 41.7L172.2 41.5L170.2 42L167.8 41.8L165.8 42.2L163.2 42L161.2 42.4L158.8 42.2L156.2 42.6L154.2 42.4L152.2 42.7L149.8 42.6L147.2 42.8L144.8 42.7L142.8 42.9L140.2 42.8L138.2 43L135.8 42.8L133.2 43L131.2 42.9L124.2 43.1L121.8 42.9L119.8 43.1L112.8 43L105.8 43.1L98.8 43L73.2 43L72.8 43L72.7 42.8L72.8 37L105.8 36.9L117.2 37L119.8 36.9L126.8 37.1L128.8 37L131.2 37.1L133.2 37L135.8 37.2L138.2 37L140.2 37.2L142.8 37.1L144.8 37.3L147.2 37.2L149.8 37.4L152.2 37.3L154.2 37.6L156.2 37.4L158.8 37.8L161.2 37.6L163.2 38L165.8 37.8L167.8 38.2L170.2 38L172.2 38.5L174.8 38.3L177.2 38.8L179.2 38.4L181.8 38.8L184.2 38.4L186.2 38.9L188.8 38.4L190.8 39L193.2 38.4L195.8 39L197.8 38.5L200.2 39.1L201.8 38.6L202.8 38.6L204.8 39.2L206.2 38.7L207.2 38.6L209.2 39.3L210.8 38.8L211.8 38.7L212.3 38.8L213.8 39.5L214.2 39.5L215.8 38.8L216.2 38.7L217.2 39L218.2 39.6L218.8 39.6L220.8 38.7L223.2 39.2L225.2 38.5L227.8 38.9L229.8 38.3L232.2 38.6L234.8 38.1L236.8 38.4L239.2 38L241.2 38.2L243.8 37.8L246.2 38.1L248.2 37.7L250.8 37.9L252.8 37.6L255.2 37.8L257.8 37.5L259.8 37.7L262.2 37.4L264.2 37.6L266.8 37.3L269.2 37.5L271.2 37.3L273.8 37.4L275.8 37.2L278.2 37.4L280.2 37.1L282.8 37.3L285.2 37.1L287.2 37.2L289.8 37L291.8 37.2L294.2 37L301.2 37.1L303.8 37L305.8 37.1L308.2 36.9L310.2 37.1L312.8 36.9L315.2 37L317.2 36.9L319.8 37L321.8 36.8L324.2 37L331.2 36.8L333.2 36.9L335.8 36.8L338.2 36.9L340.2 36.8L342.8 36.9L344.8 36.8L356.8 36.9L358.8 36.8L361.2 36.9L363.2 36.8L365.8 36.9L367.8 36.8L370.2 36.9L372.8 36.8L374.8 36.9L377.2 36.8L391.2 36.9L393.8 37.7L396.8 39.4L398.2 40.8L401.2 44.4L405.8 51.9L412.5 64.8L417.5 73.2L422.7 80.2L426.8 84.1L428.2 85.1L431.2 86.2L448.8 86.3L450.8 86.2L453.2 86.3L455.2 86.2L457.8 86.3L460.2 86.2L462.2 86.3L462.2 92.5ZM309.2 146.8L301.8 147L298.9 146.8L301.2 146.6L310.2 145.3L314 144.8L316 144.2L315.6 143.8L311.2 142.8L309.9 142.2L309.1 141.8L308.9 141.2L309.3 140.8L311.2 140L318.2 139.3L462.2 139.1L462.4 140.8L462.2 145.1L354.2 145.1L348.2 145.8L340.8 146.2L325.2 146.5L315.2 146.5L309.2 146.8ZM291.8 147.3L290.7 147.2L292.2 147.2L291.8 147.3Z"/>
<path fill="rgb(204,204,204)" d="M119.8 42.8L117.2 42.6L115.2 42.8L112.8 42.7L105.8 42.8L98.8 42.7L96.8 42.8L94.2 42.7L92.2 42.8L89.8 42.7L72.8 42.7L72.8 37.3L89.8 37.3L92.2 37.2L94.2 37.3L96.8 37.2L98.8 37.3L105.8 37.2L112.8 37.3L115.2 37.2L117.2 37.4L119.8 37.2L121.8 37.4L124.2 37.3L126.8 37.4L128.8 37.3L131.2 37.5L133.2 37.4L135.8 37.6L138.2 37.4L140.2 37.7L142.8 37.5L144.8 37.8L147.2 37.6L149.8 38L151.8 37.8L154.2 38.2L156.2 38L158.8 38.4L161.2 38.2L163.2 38.8L165.8 38.5L168.2 39.4L170.2 38.9L171.1 39.2L171.5 39.8L171.5 40.2L171.2 40.6L170.2 41.1L168.2 40.6L165.8 41.5L163.2 41.2L161.2 41.8L158.8 41.6L156.2 42L154.2 41.8L152.2 42.2L149.8 42L147.2 42.4L144.8 42.2L142.8 42.5L140.2 42.3L138.2 42.6L135.8 42.4L133.2 42.6L131.2 42.5L128.8 42.7L126.8 42.6L119.8 42.8ZM460.8 92.3L453.2 92.2L450.8 92.3L448.2 92.2L446.2 92.3L443.8 92.2L441.8 92.3L439.2 92.2L436.8 92.3L434.8 92.2L431.8 92.3L428.2 91.4L426.1 90.2L422.8 87L421.2 85.2L417.2 78.8L411 66.8L406.4 58.8L401.4 51.2L396.3 45.8L392.8 43.5L391.8 43.1L388.8 42.8L386.2 42.9L384.2 42.8L381.8 42.9L374.8 42.8L372.8 42.9L370.2 42.8L358.8 42.9L347.2 42.7L344.8 42.9L337.8 42.7L335.8 42.9L333.2 42.7L331.2 42.9L324.2 42.7L321.8 42.8L319.8 42.6L317.2 42.8L315.2 42.6L312.8 42.8L310.2 42.5L308.2 42.7L305.8 42.5L303.8 42.7L301.2 42.4L298.8 42.6L296.8 42.4L294.2 42.6L291.8 42.4L289.8 42.6L287.2 42.3L284.8 42.5L282.8 42.2L280.8 42.4L278.2 42.1L275.8 42.3L273.8 42L271.2 42.2L269.2 41.9L266.8 42.1L264.2 41.8L262.2 42L259.8 41.6L257.8 41.9L255.2 41.4L252.8 41.7L250.8 41.2L248.2 41.5L246.2 40.9L243.8 41.4L241.2 40.4L240.2 40.9L239.2 41.1L238.2 40.8L237.6 40.2L237.6 39.8L238.8 39L239.8 39L241.2 39.6L243.8 38.6L246.2 39.1L248.2 38.5L250.8 38.8L252.8 38.3L255.2 38.6L257.8 38.1L259.8 38.4L262.2 38L264.2 38.2L266.8 37.9L269.2 38.1L271.2 37.8L273.8 38L275.8 37.7L278.2 37.9L280.2 37.6L282.8 37.8L285.2 37.5L287.2 37.7L289.8 37.4L291.8 37.6L294.2 37.4L296.8 37.6L298.8 37.4L301.2 37.6L303.8 37.3L305.8 37.5L308.2 37.3L310.2 37.5L312.8 37.2L315.2 37.4L317.2 37.2L319.8 37.4L321.8 37.2L324.2 37.3L331.2 37.1L338.2 37.3L340.2 37.1L342.8 37.3L344.8 37.1L347.2 37.3L349.8 37.1L351.8 37.2L354.2 37.1L365.8 37.2L368.2 37.1L370.2 37.2L372.8 37.1L374.8 37.2L381.8 37.1L384.2 37.2L386.2 37.1L391.8 37.3L393.8 38L396.8 39.8L398.3 41.2L401.2 44.9L405.8 52.4L412.4 65.2L417.5 73.8L422.3 80.2L426.8 84.5L428.2 85.4L430.2 86.3L431.2 86.5L437.2 86.5L439.2 86.6L441.8 86.5L443.8 86.6L446.2 86.5L448.8 86.6L450.8 86.5L453.2 86.6L455.2 86.5L457.8 86.6L460.2 86.5L462.2 86.6L462.2 92.2L460.8 92.3ZM234.8 40.8L233.7 40.2L233.8 39.7L234.8 39.2L235.2 39.3L235.8 39.8L235.8 40.2L235.2 40.7L234.8 40.8ZM334.8 146.3L315.2 146.4L305.8 146.7L304.8 146.7L304.5 146.2L315.2 144.8L317.6 144.2L317.4 143.8L311.3 142.2L310.5 141.8L310.3 141.2L310.8 140.7L312.6 140.2L318.2 139.6L329.8 139.4L462.2 139.3L462.3 140.8L462.2 144.9L354.2 144.9L346.8 145.8L334.8 146.3Z"/>
<path fill="rgb(214,214,214)" d="M129.2 42.3L126.8 42.2L124.2 42.4L121.8 42.2L119.8 42.4L117.2 42.3L115.2 42.5L112.8 42.3L105.8 42.5L103.8 42.4L101.2 42.5L98.8 42.4L96.8 42.5L94.2 42.4L92.2 42.5L89.8 42.4L87.2 42.5L85.2 42.4L82.8 42.5L80.8 42.4L72.8 42.5L72.8 37.5L80.8 37.6L82.8 37.5L85.2 37.6L87.2 37.5L89.8 37.6L92.2 37.5L94.2 37.6L96.8 37.5L98.8 37.6L101.2 37.5L103.8 37.6L105.8 37.5L112.8 37.7L115.2 37.5L117.2 37.7L119.8 37.6L121.8 37.8L124.2 37.6L126.8 37.8L128.8 37.7L131.2 37.9L133.2 37.8L135.8 38L138.2 37.9L140.2 38.2L142.8 38L144.8 38.4L147.2 38.2L149.8 38.6L151.8 38.4L154.2 39L156.2 38.7L157.2 38.9L158.7 39.8L158.7 40.2L157.2 41.1L156.2 41.3L154.2 41L151.8 41.6L149.8 41.4L147.2 41.8L144.8 41.6L142.8 42L140.2 41.8L138.2 42.1L135.8 42L133.8 42.2L131.2 42.1L129.2 42.3ZM462.2 91.8L460.2 92L453.2 91.8L446.2 92L443.8 91.8L441.8 92L439.2 91.8L436.8 92L434.8 91.8L432.2 92L430.6 91.8L428.9 91.2L426.6 90.2L425.8 89.6L422.8 86.6L421.2 84.6L417.2 78.2L415.6 74.8L412.8 69.8L411.1 66.2L408.8 62.4L406.6 58.2L401.8 51.2L396.8 45.7L392.2 42.9L388.8 42.4L386.2 42.6L384.2 42.4L381.8 42.6L374.8 42.4L372.8 42.6L370.2 42.4L368.2 42.6L365.8 42.4L358.8 42.6L356.8 42.4L354.2 42.6L347.2 42.4L344.8 42.6L342.8 42.4L340.2 42.5L337.8 42.4L335.8 42.5L333.2 42.4L331.2 42.5L328.8 42.3L326.2 42.5L324.2 42.3L321.8 42.4L319.8 42.2L317.2 42.4L315.2 42.2L312.8 42.4L310.2 42.1L308.2 42.3L305.8 42.1L303.8 42.3L301.2 42L298.8 42.2L296.8 41.9L294.2 42.2L292.2 41.9L289.8 42.1L287.2 41.8L285.2 42L282.8 41.7L280.2 41.9L278.2 41.5L275.8 41.8L273.8 41.3L271.2 41.6L269.2 41.1L266.8 41.5L264.2 40.8L262.2 41.3L261.8 41.2L260.7 40.8L260.2 40.4L259.8 40.3L257.8 41L256.8 40.7L256.3 40.2L256.3 39.8L256.8 39.2L257.8 39L259.8 39.7L260.2 39.6L260.7 39.2L261.8 38.8L262.2 38.7L264.2 39.2L266.8 38.5L269.2 38.9L271.2 38.4L273.8 38.7L275.8 38.2L278.2 38.5L280.8 38.1L282.8 38.3L284.8 38L287.2 38.2L289.8 37.9L292.2 38.1L294.2 37.8L296.8 38.1L298.8 37.8L301.2 38L303.8 37.7L305.8 37.9L308.2 37.7L310.2 37.9L312.8 37.6L315.2 37.8L317.2 37.6L319.8 37.8L321.8 37.6L324.2 37.7L326.2 37.5L328.8 37.7L331.2 37.5L333.2 37.6L335.8 37.5L338.2 37.6L340.2 37.5L342.8 37.6L344.8 37.4L347.2 37.6L349.8 37.4L351.8 37.6L354.2 37.4L361.2 37.6L363.2 37.4L365.8 37.6L368.2 37.4L370.2 37.6L372.8 37.4L374.8 37.6L381.8 37.4L384.2 37.6L386.2 37.4L391.8 37.6L393.5 38.2L396.8 40.2L398.2 41.7L401.2 45.4L405.8 53L407.5 56.8L410.2 61.5L412 65.2L417.1 73.8L421.9 80.2L426.8 84.9L430.2 86.7L431.2 86.9L434.8 87L437.2 86.8L439.2 87L441.8 86.8L443.8 87L446.2 86.8L448.8 87L450.8 86.8L453.2 87L455.2 86.8L457.8 87L460.2 86.8L462.2 87L462.2 91.8ZM161.2 40.8L160.2 40.8L159.8 40.5L159.3 40.2L159.3 39.8L160.2 39.2L161.3 39.2L161.9 39.8L161.9 40.2L161.2 40.8ZM253.8 40.3L253.2 40.6L252.8 40.5L252.4 40.2L252.4 39.8L252.8 39.5L253.2 39.4L253.9 39.8L253.8 40.3ZM329.8 146.3L308.2 146.5L306.1 146.2L319.7 144.2L320 143.8L313.4 142.2L312.3 141.8L312.1 141.2L313.8 140.6L318.2 139.9L345.2 139.6L462.2 139.6L462.3 140.8L462.2 144.6L354.2 144.6L344.7 145.8L329.8 146.3Z"/>
<path fill="rgb(224,224,224)" d="M406.8 57.4L404.8 55L401.6 50.2L397.2 45.6L396.2 44.8L393.2 42.9L391.8 42.4L388.8 42L386.2 42.3L383.8 42.1L381.8 42.3L379.8 42.1L377.2 42.3L374.8 42.1L372.8 42.3L370.2 42.1L368.2 42.3L365.8 42.1L363.2 42.3L361.2 42.1L358.8 42.3L356.2 42L354.2 42.2L351.8 42L349.8 42.2L347.2 42L344.8 42.2L342.8 42L340.2 42.2L338.2 41.9L335.8 42.2L333.2 41.9L331.2 42.1L328.8 41.9L326.8 42.1L324.2 41.8L321.8 42L319.8 41.8L317.2 42L315.2 41.7L312.8 41.9L310.2 41.6L308.2 41.9L305.8 41.5L303.8 41.8L301.2 41.4L298.8 41.7L296.8 41.3L294.2 41.6L292.2 41.3L289.8 41.5L287.2 41.1L284.8 41.4L282.8 40.8L280.8 41.2L279.8 41L278.2 40.3L276.8 40.9L275.8 40.9L274.6 40.2L274.6 39.8L275.2 39.2L276.2 39L278.2 39.7L279.8 39L280.8 38.8L282.8 39.2L285.2 38.6L287.2 38.9L289.8 38.5L292.2 38.7L294.2 38.4L296.8 38.7L298.8 38.3L301.2 38.6L303.8 38.2L305.8 38.5L308.2 38.1L310.2 38.4L312.8 38.1L315.2 38.3L317.2 38L319.8 38.2L321.8 38L324.2 38.2L326.2 37.9L328.8 38.1L331.2 37.9L333.2 38.1L335.8 37.8L337.8 38L340.2 37.8L342.8 38L344.8 37.8L347.2 38L349.8 37.8L352.2 38L354.2 37.8L356.8 38L358.8 37.7L361.2 37.9L363.2 37.7L365.8 37.9L367.8 37.7L370.2 37.9L372.8 37.7L374.8 37.9L377.2 37.7L379.2 37.9L381.8 37.7L384.2 37.9L386.2 37.7L388.8 37.9L391.2 37.9L393.2 38.6L396.3 40.2L397.8 41.7L400.8 45.3L405.8 53.8L406.8 56.2L406.9 57.2L406.8 57.4ZM133.2 41.8L131.2 41.6L128.8 41.9L126.8 41.7L124.2 42L121.8 41.8L119.8 42.1L117.2 41.9L115.2 42.1L112.8 42L110.8 42.2L108.2 42.1L105.8 42.2L103.8 42.1L101.2 42.2L98.8 42.1L96.8 42.2L94.2 42L92.2 42.2L89.8 42L87.2 42.2L85.2 42L82.8 42.2L75.8 42L73.2 42.2L72.8 42.1L72.7 38.2L72.8 37.9L73.8 37.8L75.8 38L82.8 37.8L89.8 38L92.2 37.8L94.2 38L96.8 37.8L98.8 37.9L101.2 37.8L103.8 37.9L105.8 37.8L108.2 37.9L110.8 37.8L112.8 38L115.2 37.9L117.2 38.1L119.8 37.9L121.8 38.2L124.2 38L126.8 38.3L129.2 38.1L131.2 38.4L133.2 38.2L135.8 38.6L138.2 38.4L140.2 38.8L142.8 38.6L144.8 39.2L147.2 38.9L148.3 39.2L148.8 39.8L148.8 40.2L148.3 40.8L147.2 41.1L144.8 40.8L142.8 41.4L140.2 41.2L138.2 41.6L135.8 41.4L133.2 41.8ZM152.2 40.4L151.8 40.5L150.8 40.3L150.7 39.8L151.8 39.5L152.2 39.6L152.4 39.8L152.2 40.4ZM272.2 40.4L271.2 40.6L270.6 40.2L270.6 39.8L271.2 39.4L272.2 39.6L272.5 39.8L272.5 40.2L272.2 40.4ZM407.2 58L407.2 57.7L407.2 58ZM410.2 63.8L408.8 61.5L407.8 59.3L407.8 58.6L408.8 59.8L410.2 62.5L410.4 63.2L410.4 63.8L410.2 63.8ZM462.2 91.4L460.2 91.6L457.8 91.4L455.2 91.6L453.2 91.4L450.8 91.6L448.2 91.4L446.2 91.6L443.8 91.4L441.8 91.6L439.2 91.4L436.8 91.6L434.8 91.4L432.2 91.6L430.2 91.3L427.3 90.2L425.9 89.2L422.8 86L421.8 84.8L417.8 78.3L416 74.2L413.2 69.8L412.9 68.8L412.9 68.2L413.2 68.2L413.8 68.9L414.8 70.5L416.4 73.8L418.9 76.8L421.8 80.7L426.2 85L429.8 86.9L430.8 87.2L434.8 87.4L436.8 87.2L439.2 87.4L441.8 87.2L443.8 87.4L446.2 87.2L448.2 87.4L450.8 87.2L453.2 87.4L455.2 87.2L457.8 87.4L460.2 87.2L462.2 87.4L462.2 91.4ZM325.8 146.3L307.9 146.2L322.1 144.2L323 143.8L317.3 142.8L315.6 142.2L314.6 141.8L314.5 141.2L315.7 140.8L319.1 140.2L345.2 139.9L462.2 139.9L462.3 140.8L462.2 144.3L354.2 144.3L342.7 145.8L325.8 146.3Z"/>
<path fill="rgb(235,235,235)" d="M115.2 41.8L112.8 41.6L110.8 41.8L108.2 41.7L105.8 41.9L103.8 41.7L101.2 41.9L98.8 41.7L96.8 41.9L94.2 41.7L92.2 41.9L89.8 41.7L87.2 41.9L85.2 41.7L82.8 41.9L80.8 41.7L78.2 41.9L75.8 41.7L72.8 41.8L72.8 38.2L75.8 38.3L78.2 38.1L80.8 38.3L82.8 38.1L85.2 38.3L87.2 38.1L89.8 38.3L92.2 38.1L94.2 38.3L96.8 38.1L98.8 38.3L101.2 38.1L103.8 38.3L105.8 38.1L108.2 38.3L110.8 38.2L112.8 38.4L115.2 38.2L117.2 38.5L119.8 38.4L121.8 38.7L124.2 38.5L126.8 38.9L128.8 38.6L131.2 39.2L133.2 38.8L134.2 39L135.8 39.7L137.8 39.1L138.5 39.2L139.3 39.8L139.3 40.2L138.2 40.8L137.1 40.8L135.8 40.3L134.2 41L133.2 41.2L131.2 40.8L128.8 41.4L126.8 41.1L124.2 41.5L121.8 41.3L119.8 41.6L117.2 41.5L115.2 41.8ZM401.8 49.3L400.2 48.2L397.8 45.4L396.8 44.6L392.8 42.2L389.2 41.6L386.2 41.9L383.8 41.6L381.8 41.9L379.2 41.6L377.2 41.9L374.8 41.6L372.8 41.9L370.2 41.6L367.8 41.9L365.8 41.6L363.2 41.9L361.2 41.6L358.8 41.9L356.2 41.6L353.8 41.8L351.8 41.5L349.2 41.8L347.2 41.5L344.8 41.8L342.8 41.5L340.2 41.8L338.2 41.5L335.8 41.7L333.2 41.4L331.2 41.7L328.8 41.4L326.2 41.6L324.2 41.3L321.8 41.5L319.8 41.2L317.2 41.5L315.2 41L312.8 41.4L310.2 40.9L308.8 41.2L307.8 41.3L305.8 40.7L303.8 41.2L302.8 41L301.2 40.4L299.8 40.9L298.8 41L297.9 40.8L297.1 40.2L297.1 39.8L297.9 39.2L298.8 39L299.8 39.1L301.2 39.6L302.8 39L303.8 38.8L305.8 39.3L308.2 38.7L310.2 39.1L312.8 38.6L315.2 39L317.2 38.5L319.8 38.8L321.8 38.5L324.2 38.7L326.8 38.4L328.8 38.6L331.2 38.3L333.2 38.6L335.8 38.3L338.2 38.5L340.2 38.2L342.8 38.5L344.8 38.2L347.2 38.5L349.2 38.2L351.8 38.5L354.2 38.2L356.2 38.4L358.8 38.1L361.2 38.4L363.2 38.1L365.8 38.4L367.8 38.1L370.2 38.4L372.8 38.1L374.8 38.4L377.2 38.1L379.2 38.4L381.8 38.1L384.2 38.4L386.2 38.1L388.8 38.4L390.8 38.2L392.7 38.8L395.5 40.2L396.8 41.2L400.9 46.2L401.8 48.2L401.9 48.8L401.8 49.3ZM295.2 40.8L293.7 40.8L293 40.2L293 39.8L293.8 39.2L295.3 39.2L296.2 39.8L296.2 40.2L295.2 40.8ZM290.8 40.3L289.8 40.7L288.9 40.2L288.9 39.8L289.8 39.3L290.2 39.4L290.9 39.8L290.9 40.2L290.8 40.3ZM419.8 80.2L418.2 78L418.2 77.2L419.2 78.2L419.8 79.2L420.1 79.8L419.8 80.2ZM450.8 91.3L448.8 91L446.2 91.3L443.8 91L441.8 91.2L439.2 91L436.8 91.3L434.8 91L432.2 91.3L428.4 90.2L426.5 89.2L422.8 85.4L421.6 83.8L420.6 81.2L419.9 80.2L420.2 80L421.3 81.2L423.3 82.8L426.5 85.8L430.8 87.7L432.8 87.6L434.8 87.8L437.2 87.6L439.2 87.8L441.8 87.6L443.8 87.8L446.2 87.6L448.8 87.8L450.8 87.6L453.2 87.8L455.2 87.6L457.8 87.8L460.2 87.6L462.2 87.8L462.2 91L460.2 91.2L457.8 91L455.2 91.2L453.2 91L450.8 91.3ZM340.2 145.8L324.8 146.1L314.2 146L312.4 145.8L324.2 144.2L326.3 143.8L324.4 143.2L318.2 142.4L316.8 141.8L317 141.2L318.2 140.8L325.2 140.5L345.2 140.2L462.2 140.2L462.3 140.8L462.2 144L354.2 144L350.2 144.3L345.6 145.2L340.2 145.8Z"/>
<path fill="rgb(245,245,245)" d="M115.2 41.3L112.8 41L110.8 41.4L108.2 41.2L105.8 41.5L103.8 41.3L101.2 41.5L98.8 41.2L96.8 41.5L94.2 41.2L92.2 41.5L89.8 41.2L87.2 41.5L85.2 41.2L82.8 41.5L80.8 41.2L78.2 41.5L75.8 41.2L73.2 41.4L72.8 41.4L72.8 38.6L73.8 38.5L75.8 38.8L78.2 38.5L80.2 38.8L82.8 38.5L85.2 38.8L87.2 38.5L89.8 38.8L91.8 38.5L94.2 38.8L96.8 38.5L98.8 38.8L101.2 38.5L103.2 38.7L105.8 38.5L108.2 38.8L110.2 38.6L112.8 39L115.2 38.7L117.2 39.2L119.8 38.9L121.8 39.6L124.2 39.1L124.8 39.2L125.6 39.8L125.6 40.2L124.8 40.8L124.2 40.9L121.8 40.4L119.8 41.1L117.2 40.8L115.2 41.3ZM397.2 43.5L396.8 43.7L395.8 43.4L392.8 41.5L390.8 41.4L388.8 41L386.2 41.4L384.2 41L381.8 41.4L379.8 41L377.2 41.4L374.8 41L372.8 41.4L370.2 41L368.2 41.4L365.8 41L363.8 41.4L361.2 41L358.8 41.4L356.2 41L353.8 41.3L351.8 40.9L350.2 41.2L349.2 41.3L347.2 40.8L344.8 41.2L342.8 40.8L340.2 41.2L338.2 40.7L335.8 41.2L333.2 40.6L331.2 41.1L328.8 40.5L327.2 40.9L326.2 41L324.5 40.2L324.5 39.8L326.2 39L327.2 39.1L328.8 39.5L331.2 38.9L333.2 39.4L335.8 38.8L338.2 39.3L340.2 38.8L342.8 39.2L344.8 38.8L347.2 39.1L349.8 38.7L351.8 39.1L354.2 38.7L356.2 39L358.8 38.6L361.2 39L363.2 38.6L365.8 39L367.8 38.6L370.2 39L372.8 38.6L374.8 39L377.2 38.6L379.2 39L381.8 38.6L384.2 39L386.2 38.6L388.8 39L390.8 38.7L392.2 39.1L396 41.2L397.2 42.8L397.4 43.2L397.2 43.5ZM322.8 40.8L321.4 40.8L320.5 40.2L320.5 39.8L321.4 39.2L322.2 39.1L323.8 39.8L323.8 40.2L322.8 40.8ZM129.2 40.3L128.8 40.4L127.9 40.2L127.9 39.8L128.8 39.6L129.2 39.7L129.2 40.3ZM313.2 40.4L312.3 40.2L312.3 39.8L312.8 39.6L313.5 39.8L313.5 40.2L313.2 40.4ZM318.2 40.5L317.2 40.7L316.8 40.5L316.4 40.2L316.4 39.8L317.2 39.3L318.2 39.5L318.6 39.8L318.6 40.2L318.2 40.5ZM424.8 86L424.2 85.8L423.2 84.9L422.8 84.2L422.8 83.6L423.2 83.7L424.3 84.8L424.9 85.8L424.8 86ZM425.2 86.4L425.1 86.2L425.2 86.1L425.5 86.2L425.2 86.4ZM460.2 90.8L457.8 90.4L455.2 90.8L453.2 90.4L450.8 90.8L448.8 90.4L446.2 90.8L443.8 90.4L441.8 90.8L439.2 90.4L437.2 90.8L434.8 90.4L432 90.8L427.4 89.2L426.3 88.2L425.4 86.8L425.8 86.3L427.8 86.9L429.8 88L430.8 88.2L432.8 88.1L434.8 88.4L437.2 88L439.2 88.4L441.8 88L443.8 88.4L446.2 88L448.8 88.4L450.8 88L453.2 88.4L455.2 88.1L457.8 88.4L460.2 88.1L462.2 88.4L462.2 90.4L460.2 90.8ZM337.2 145.8L324.8 146L314.8 145.8L317.4 145.2L327.2 144.2L330.3 143.8L329 143.2L322.6 142.2L321.2 141.8L322.7 141.2L329.8 140.8L345.2 140.6L459.8 140.6L462.2 140.6L462.3 140.8L462.2 143.6L354.2 143.6L348.2 144L346.5 144.2L345.5 144.8L343.6 145.2L337.2 145.8Z"/>
<path fill="rgb(252,252,252)" d="M110.8 40.8L109.8 40.8L108.2 40.4L105.8 41L103.2 40.5L101.2 41L98.8 40.4L96.8 41L94.2 40.4L91.8 41L89.8 40.4L87.2 40.9L85.2 40.4L83.2 40.9L82.2 40.9L80.2 40.5L78.2 40.9L75.8 40.4L74.2 40.9L73.2 40.9L72.8 40.8L72.8 39.2L74.2 39.1L75.8 39.6L78.2 39.1L80.8 39.5L82.8 39L85.2 39.6L87.2 39.1L89.8 39.6L92.2 39L94.2 39.6L96.8 39L98.8 39.6L101.2 39L103.8 39.5L105.8 39L108.2 39.6L110.2 39.1L111.1 39.2L111.9 39.8L111.9 40.2L110.8 40.8ZM115.2 40.5L114.8 40.5L113.8 40.2L113.8 39.8L114.8 39.5L115.7 39.8L115.7 40.2L115.2 40.5ZM349.8 40.3L349.1 40.2L349.1 39.8L350.2 39.8L350.2 40.2L349.8 40.3ZM354.8 40.4L353.8 40.4L353.5 40.2L353.5 39.8L354.2 39.5L355 39.8L355 40.2L354.8 40.4ZM359.8 40.3L358.8 40.6L357.8 40.2L357.8 39.8L358.8 39.4L359.2 39.5L359.8 39.8L359.8 40.3ZM364.2 40.4L363.2 40.6L362.8 40.5L362.4 40.2L362.4 39.8L363.2 39.4L364.2 39.6L364.4 39.8L364.4 40.2L364.2 40.4ZM368.8 40.4L367.8 40.6L367 40.2L367 39.8L367.8 39.4L368.2 39.4L369 39.8L369 40.2L368.8 40.4ZM373.2 40.5L372.8 40.6L371.8 40.4L371.6 40.2L371.6 39.8L372.2 39.4L373.2 39.5L373.6 39.8L373.6 40.2L373.2 40.5ZM378.2 40.3L377.2 40.6L376.8 40.6L376.2 40.2L376.2 39.8L377.2 39.4L378.3 39.8L378.2 40.3ZM382.8 40.3L381.8 40.6L380.7 40.2L380.7 39.8L381.8 39.4L382.2 39.4L382.8 39.8L382.8 40.3ZM387.2 40.4L386.2 40.6L385.8 40.5L385.4 40.2L385.4 39.8L386.2 39.4L387.2 39.6L387.4 39.8L387.4 40.2L387.2 40.4ZM391.8 40.5L390.8 40.6L390 40.2L390 39.8L390.8 39.5L391.7 39.8L391.9 40.2L391.8 40.5ZM433.2 89.8L432.2 90L431.8 89.9L431.3 89.2L431.8 88.9L432.8 88.8L433.5 89.2L433.2 89.8ZM437.8 89.8L436.8 90L436.1 89.8L435.9 89.2L436.8 88.8L437.2 88.8L438.1 89.2L437.8 89.8ZM442.2 89.9L441.8 90L440.8 89.8L440.5 89.2L441.2 88.8L442.2 88.9L442.7 89.2L442.5 89.8L442.2 89.9ZM446.8 89.9L445.8 89.9L445.3 89.8L445.1 89.2L445.8 88.8L446.2 88.8L446.8 88.9L447.3 89.2L447.2 89.8L446.8 89.9ZM451.2 89.9L450.8 90L449.8 89.8L449.7 89.2L450.8 88.8L451.2 88.8L451.9 89.2L451.7 89.8L451.2 89.9ZM456.2 89.8L455.2 90L454.8 89.9L454.5 89.8L454.3 89.2L454.8 88.9L455.8 88.8L456.5 89.2L456.2 89.8ZM460.8 89.8L459.8 90L459.1 89.8L458.9 89.2L459.8 88.8L460.2 88.8L461.1 89.2L460.8 89.8ZM349.8 143.3L342.2 143.3L332.2 142.8L328.6 142.2L328.2 141.8L330.2 141.4L345.2 141.1L462.2 141.1L462.3 141.2L462.2 143.1L349.8 143.3ZM333.2 145.8L317.8 145.8L319.3 145.2L322.8 145L324.8 144.6L330.8 144.4L339.8 144.2L341.8 144.4L342.8 144.8L341.6 145.2L333.2 145.8Z"/>
</g>
</g>
<path d="M76 112.4H460" stroke="#e4e4f4" stroke-width="1" stroke-dasharray="5.4 2.8" fill="none"/>
<rect x="75.4" y="6.4" width="384.2" height="221.4" fill="none" stroke="#0a0a0a" stroke-width="1"/>
<text x="83" y="23" class="pl" style="fill:#fff;font-size:16.4px">(a)</text>
<text x="81" y="92.6" class="hl">TE<tspan class="hs" dy="2.2">0</tspan><tspan dy="-2.2"> @ 1550 nm</tspan></text>
<text x="81" y="216.1" class="hl" style="font-size:13.8px">TM<tspan class="hs" dy="2.2">0</tspan><tspan dy="-2.2"> @ 1550 nm</tspan></text>
<rect x="486" y="34" width="21" height="167" fill="url(#cb)"/>
<text x="496" y="27.2" text-anchor="middle" class="pl">1</text>
<text x="496.2" y="220.3" text-anchor="middle" class="pl" style="font-size:16.6px">0</text>
<clipPath id="clipb"><rect x="47.5" y="245.6" width="213.0" height="171.9"/></clipPath>
<g clip-path="url(#clipb)" fill="none" stroke-linejoin="round">
<path d="M47.5 248.7C56.2 248.7 82.2 248.6 100 248.6C117.8 248.6 135.7 248.5 154 248.5C172.3 248.5 192.2 248.5 210 248.6C227.8 248.7 252.1 248.8 260.5 248.8" stroke="#5a5a5a" stroke-width="1.3"/>
<path d="M47.5 324.7C48.3 324.6 50.6 324 52.1 324.2C53.6 324.4 55 324.9 56.8 326.1C58.6 327.3 60.7 328.9 62.7 331.3C64.7 333.8 66.7 337.2 68.7 340.8C70.7 344.4 72.8 349.2 74.6 352.6C76.4 356 77.7 358.8 79.3 360.9C80.9 362.9 82.4 364.9 84 364.9C85.6 364.9 87.2 363.3 88.8 360.9C90.4 358.4 91.9 353.5 93.5 350.2C95.1 346.9 96.4 343.6 98.2 340.8C100 338.1 102.1 335.3 104.1 333.7C106.1 332.1 108.1 331.8 110.1 331.3C112.1 330.8 114 330.7 116 330.8C118 330.9 119.9 331.2 121.9 331.8C123.9 332.4 125.8 333 127.8 334.1C129.8 335.2 131.7 336.7 133.7 338.4C135.7 340.1 137.6 342.2 139.6 344.3C141.6 346.4 143.5 348.9 145.5 350.7C147.5 352.5 149.8 354.3 151.5 355.4C153.2 356.5 154.2 357.6 155.9 357.3C157.6 357 159.8 355.4 161.8 353.8C163.8 352.2 165.7 349.7 167.7 347.9C169.7 346.1 171.7 344.6 173.7 343.1C175.7 341.6 177.6 340.1 179.6 338.9C181.6 337.6 183.5 336.6 185.5 335.6C187.5 334.7 189.4 333.8 191.4 333.2C193.4 332.6 195.3 332.2 197.3 332C199.3 331.8 201.2 331.8 203.2 331.8C205.2 331.8 206.1 331.8 209.1 332.2C212.1 332.6 217.1 333.5 221 334.1C224.9 334.7 228.9 335.3 232.8 336C236.7 336.7 240.7 337.5 244.6 338.4C248.5 339.3 253.8 340.8 256.5 341.5C259.1 342.2 259.8 342.5 260.5 342.7" stroke="#e04e52" stroke-width="1.1"/>
<path d="M47.5 387.4C48.3 387.3 50.6 387.3 52.1 386.9C53.6 386.5 55 386 56.8 385.2C58.6 384.4 60.7 383.2 62.7 382.2C64.7 381.2 66.7 380.1 68.7 379.1C70.7 378.2 72.6 377.2 74.6 376.5C76.6 375.8 78.7 375 80.5 374.6C82.3 374.2 83.6 374.1 85.2 374.1C86.8 374.1 88.1 374.4 89.9 374.8C91.7 375.2 93.9 376.1 95.9 376.7C97.9 377.3 99.8 378.1 101.8 378.6C103.8 379.1 105.7 379.4 107.7 379.6C109.7 379.8 111.4 379.9 113.6 379.8C115.8 379.8 118.3 379.5 120.7 379.3C123.1 379.1 125.4 378.9 127.8 378.6C130.2 378.3 132.5 377.9 134.9 377.4C137.3 376.9 139.6 376.4 142 375.8C144.4 375.2 146.8 374.6 149.1 373.9C151.4 373.2 153.8 372.1 155.9 371.5C158 370.9 159.8 370.5 161.8 370.3C163.8 370.1 165.7 370 167.7 370.1C169.7 370.2 171.7 370.6 173.7 371C175.7 371.4 177.6 372.4 179.6 372.7C181.6 373 183.5 373.1 185.5 372.7C187.5 372.3 189.4 371.3 191.4 370.3C193.4 369.3 195.3 367.9 197.3 366.8C199.3 365.7 201.2 364.5 203.2 363.9C205.2 363.3 207.1 363.1 209.1 363C211.1 362.9 213.1 363.1 215.1 363.2C217.1 363.3 219 363.6 221 363.7C223 363.8 224.9 363.9 226.9 363.9C228.9 363.9 230.8 363.7 232.8 363.5C234.8 363.3 236.7 362.9 238.7 362.5C240.7 362.1 242.6 361.6 244.6 361.3C246.6 361 248.5 360.6 250.5 360.6C252.5 360.6 254.8 360.9 256.5 361.3C258.2 361.7 259.8 362.6 260.5 362.9" stroke="#3f7fe0" stroke-width="1.3"/>
<path d="M47.5 379.8C48.3 380 50.6 380.4 52.1 381C53.6 381.6 55 382.3 56.8 383.3C58.6 384.3 60.7 385.7 62.7 386.9C64.7 388.1 66.7 389.4 68.7 390.4C70.7 391.4 72.6 392.2 74.6 392.8C76.6 393.4 78.7 393.9 80.5 394.2C82.3 394.5 83.6 394.7 85.2 394.7C86.8 394.7 88.1 394.4 89.9 394C91.7 393.6 93.9 392.8 95.9 392.1C97.9 391.4 99.8 390.6 101.8 389.7C103.8 388.8 105.7 387.5 107.7 386.4C109.7 385.3 111.8 384.1 113.6 383.3C115.4 382.5 116.5 382.1 118.3 381.7C120.1 381.3 122.3 380.9 124.3 380.7C126.3 380.5 128.2 380.4 130.2 380.5C132.2 380.6 134.1 380.8 136.1 381C138.1 381.2 140.2 381.7 142 381.9C143.8 382.1 145.1 382.3 146.7 382.2C148.3 382.1 150 381.8 151.5 381.4C153 381 154.2 380.5 155.9 379.8C157.6 379.1 159.8 378.2 161.8 377.4C163.8 376.6 165.7 375.8 167.7 375.1C169.7 374.4 171.7 373.9 173.7 373.4C175.7 372.9 177.6 372.6 179.6 372.2C181.6 371.8 183.5 371.5 185.5 371C187.5 370.5 189.4 369.7 191.4 369.1C193.4 368.5 195.3 367.9 197.3 367.5C199.3 367.1 201.2 367 203.2 366.8C205.2 366.6 207.1 366.6 209.1 366.5C211.1 366.4 213.1 366.6 215.1 366.3C217.1 366 219 365.3 221 364.9C223 364.5 224.9 364.2 226.9 363.9C228.9 363.6 230.8 363.4 232.8 363.2C234.8 363 236.7 362.8 238.7 362.5C240.7 362.2 242.6 361.8 244.6 361.6C246.6 361.4 248.5 361.2 250.5 361.1C252.5 361 254.8 361 256.5 361.1C258.2 361.2 259.8 361.5 260.5 361.6" stroke="#3aa86e" stroke-width="1.2"/>
</g>
<rect x="47.5" y="245.6" width="213.0" height="171.9" fill="none" stroke="#1a1a1a" stroke-width="1.1"/>
<path d="M47.5 249h3.6M47.5 265.9h1.8M47.5 282.7h3.6M47.5 299.6h1.8M47.5 316.4h3.6M47.5 333.2h1.8M47.5 350.1h3.6M47.5 366.9h1.8M47.5 383.8h3.6M47.5 400.6h1.8M74.1 417.5v-1.8M100.8 417.5v-3.6M127.4 417.5v-1.8M154 417.5v-3.6M180.6 417.5v-1.8M207.2 417.5v-3.6M233.9 417.5v-1.8" stroke="#1a1a1a" stroke-width="1" fill="none"/>
<text transform="translate(43.1 253) scale(0.93 1)" text-anchor="end" class="tk" style="font-size:11.8px">0</text>
<text transform="translate(43.1 286.7) scale(0.93 1)" text-anchor="end" class="tk" style="font-size:11.8px">-10</text>
<text transform="translate(43.1 320.4) scale(0.93 1)" text-anchor="end" class="tk" style="font-size:11.8px">-20</text>
<text transform="translate(43.1 354.1) scale(0.93 1)" text-anchor="end" class="tk" style="font-size:11.8px">-30</text>
<text transform="translate(43.1 387.8) scale(0.93 1)" text-anchor="end" class="tk" style="font-size:11.8px">-40</text>
<text transform="translate(43.1 421.5) scale(0.93 1)" text-anchor="end" class="tk" style="font-size:11.8px">-50</text>
<text transform="translate(48 430.3) scale(0.93 1)" text-anchor="middle" class="tk" style="font-size:11.8px">1450</text>
<text transform="translate(101.2 430.3) scale(0.93 1)" text-anchor="middle" class="tk" style="font-size:11.8px">1500</text>
<text transform="translate(154.5 430.3) scale(0.93 1)" text-anchor="middle" class="tk" style="font-size:11.8px">1550</text>
<text transform="translate(207.8 430.3) scale(0.93 1)" text-anchor="middle" class="tk" style="font-size:11.8px">1600</text>
<text transform="translate(261 430.3) scale(0.93 1)" text-anchor="middle" class="tk" style="font-size:11.8px">1650</text>
<text transform="translate(16.8 330) rotate(-90)" text-anchor="middle" class="al" style="font-size:14.6px">Transmission (dB)</text>
<text x="154" y="451" text-anchor="middle" class="al" style="font-size:14.6px">Wavelength (nm)</text>
<text x="6.7" y="446.8" class="pl" style="font-size:16.2px">(b)</text>
<rect x="115.8" y="252.4" width="142.5" height="70.49999999999997" fill="#fff" stroke="#6e6e6e" stroke-width="0.8"/>
<path d="M118.2 261.7H145.6" stroke="#4a4a4a" stroke-width="1"/>
<text x="145.9" y="265.7" class="lg" style="font-size:12px">TE<tspan class="sb" dy="2.4">0</tspan><tspan dy="-2.4">-TE</tspan><tspan class="sb" dy="2.4">0</tspan><tspan dy="-2.4">, Thru\Sim.</tspan></text>
<path d="M118.2 279.4H145.6" stroke="#e04e52" stroke-width="1.1"/>
<text x="145.9" y="283.4" class="lg" style="font-size:12px">TE<tspan class="sb" dy="2.4">0</tspan><tspan dy="-2.4">-TE</tspan><tspan class="sb" dy="2.4">0</tspan><tspan dy="-2.4">, Cross\Sim.</tspan></text>
<path d="M118.2 297.2H145.6" stroke="#3f7fe0" stroke-width="1.5"/>
<text x="145.9" y="301.2" class="lg" style="font-size:12px">TE<tspan class="sb" dy="2.4">0</tspan><tspan dy="-2.4">-TM</tspan><tspan class="sb" dy="2.4">0</tspan><tspan dy="-2.4">, Thru\Sim.</tspan></text>
<path d="M118.2 314.9H145.6" stroke="#3aa86e" stroke-width="1.2"/>
<text x="145.9" y="318.9" class="lg" style="font-size:12px">TE<tspan class="sb" dy="2.4">0</tspan><tspan dy="-2.4">-TM</tspan><tspan class="sb" dy="2.4">0</tspan><tspan dy="-2.4">, Cross\Sim.</tspan></text>
<clipPath id="clipc"><rect x="315.5" y="245.8" width="218.10000000000002" height="174.7"/></clipPath>
<g clip-path="url(#clipc)" fill="none" stroke-linejoin="round">
<path d="M315.8 329.4C316.8 329.5 319.6 329.5 321.5 330.1C323.4 330.7 325.4 331.3 327.4 332.9C329.4 334.5 331.3 336.7 333.3 339.6C335.3 342.5 337.2 346.3 339.2 350.2C341.2 354.1 343.4 359.8 345.1 363.2C346.8 366.6 348.1 368.8 349.4 370.3C350.7 371.8 351.5 372.4 352.7 372.2C353.9 372 355.2 371 356.5 369.1C357.8 367.2 359.1 364 360.5 360.9C361.9 357.8 363.6 353.4 365.2 350.2C366.8 347 368.4 344.2 370 341.9C371.6 339.6 373.1 337.8 374.7 336.5C376.3 335.2 377.8 334.4 379.4 333.9C381 333.3 382.4 333.1 384.2 333.2C386 333.3 387.9 333.5 390.1 334.4C392.3 335.3 394.8 336.8 397.2 338.4C399.6 340 401.9 341.8 404.3 343.8C406.7 345.9 409.2 348.6 411.4 350.7C413.6 352.8 415.7 354.7 417.3 356.1C418.9 357.5 419.6 358.3 421 359.2C422.4 360.1 424.1 361.4 425.9 361.3C427.7 361.2 429.8 359.9 431.8 358.5C433.8 357.1 435.7 354.6 437.7 352.6C439.7 350.6 441.7 348.4 443.7 346.7C445.7 345 447.6 343.8 449.6 342.6C451.6 341.4 453.5 340.4 455.5 339.6C457.5 338.8 459.4 338.4 461.4 337.9C463.4 337.4 465.3 337 467.3 336.7C469.3 336.4 471.2 336.1 473.2 336C475.2 335.9 477.1 335.8 479.1 335.8C481.1 335.8 483.1 335.9 485.1 336C487.1 336.1 489 336.3 491 336.5C493 336.7 494.9 336.9 496.9 337.2C498.9 337.5 500.8 337.9 502.8 338.2C504.8 338.5 506.7 338.8 508.7 339.1C510.7 339.4 512.6 339.7 514.6 340C516.6 340.3 518.5 340.7 520.5 341C522.5 341.3 524.3 341.5 526.5 341.9C528.7 342.3 532.4 343 533.6 343.2" stroke="#4a4a4a" stroke-width="1.15"/>
<path d="M315.8 251.3C318.2 251.2 324.3 251 330 250.8C335.7 250.6 341.7 250.5 350 250.3C358.3 250.1 368.3 249.9 380 249.8C391.7 249.7 406.7 249.6 420 249.5C433.3 249.4 446.7 249.4 460 249.4C473.3 249.4 487.7 249.5 500 249.7C512.3 249.8 528 250.2 533.6 250.3" stroke="#e04e52" stroke-width="1.3"/>
<path d="M315.8 328.5C317.1 328.2 320.9 327.2 323.8 326.6C326.7 326 330.1 325.6 333.3 324.9C336.5 324.2 339.7 322.9 342.8 322.5C345.9 322.1 349.4 322.5 352.2 322.3C354.9 322.1 356.7 321.8 359.3 321.4C361.9 321 365.2 320.3 367.6 320.2C370 320.1 371.3 320.1 373.5 320.6C375.7 321.2 378.2 322.3 380.6 323.5C383 324.7 385.3 326.1 387.7 327.7C390.1 329.3 392.4 330.9 394.8 332.9C397.2 334.9 399.5 337.3 401.9 339.6C404.3 341.9 406.6 344.3 409 346.7C411.4 349.1 414.2 352 416.1 353.8C418 355.6 418.9 356.4 420.5 357.3C422.1 358.2 424 359.2 425.9 359C427.8 358.8 429.8 357.8 431.8 356.1C433.8 354.4 435.7 351.4 437.7 349C439.7 346.6 441.7 344 443.7 341.9C445.7 339.8 447.6 337.9 449.6 336.5C451.6 335.1 453.5 334.1 455.5 333.2C457.5 332.3 459.4 331.7 461.4 331.3C463.4 330.9 465.3 330.7 467.3 330.6C469.3 330.5 471.2 330.5 473.2 330.6C475.2 330.7 477.1 330.9 479.1 331.3C481.1 331.7 483.1 332.2 485.1 332.9C487.1 333.6 489 334.5 491 335.3C493 336.1 494.9 337 496.9 337.7C498.9 338.4 500.8 339.2 502.8 339.6C504.8 340 506.7 340.4 508.7 340.3C510.7 340.2 512.6 339.7 514.6 338.9C516.6 338.1 518.5 336.8 520.5 335.6C522.5 334.4 524.3 333.3 526.5 331.8C528.7 330.3 532.4 327.6 533.6 326.8" stroke="#3f7fe0" stroke-width="1.3"/>
<path d="M315.8 343.1C316.8 342.5 319.4 341.1 321.5 339.6C323.6 338.2 326.2 335.8 328.6 334.4C331 333 333.3 331.9 335.7 331.3C338.1 330.7 340.4 331 342.8 330.6C345.2 330.2 347.7 329.3 349.9 328.9C352.1 328.5 353.8 328.1 355.8 328.2C357.8 328.3 359.5 328.8 361.7 329.4C363.9 330 366.4 331.2 368.8 332C371.2 332.8 373.5 333.6 375.9 334.1C378.3 334.6 380.6 334.4 383 334.8C385.4 335.2 387.7 335.8 390.1 336.7C392.5 337.6 394.8 338.8 397.2 340.3C399.6 341.8 401.9 343.5 404.3 345.5C406.7 347.5 409.2 350.1 411.4 352.1C413.6 354.1 415.7 355.9 417.3 357.3C418.9 358.7 419.6 359.6 421 360.4C422.4 361.2 424.1 362.3 425.9 362C427.7 361.7 429.8 360.3 431.8 358.5C433.8 356.7 435.7 353.8 437.7 351.4C439.7 349 441.7 346.4 443.7 344.3C445.7 342.2 447.6 340.5 449.6 338.9C451.6 337.3 453.5 335.9 455.5 334.8C457.5 333.7 459.4 333.1 461.4 332.5C463.4 331.9 465.3 331.6 467.3 331.3C469.3 331 471.2 330.8 473.2 330.8C475.2 330.8 477.1 331 479.1 331.3C481.1 331.6 483.1 332.2 485.1 332.9C487.1 333.6 489 334.7 491 335.6C493 336.5 494.9 337.7 496.9 338.4C498.9 339.1 500.8 339.6 502.8 340C504.8 340.4 506.7 340.9 508.7 340.8C510.7 340.7 512.6 340.2 514.6 339.3C516.6 338.4 518.5 336.9 520.5 335.6C522.5 334.4 524.3 333.3 526.5 331.8C528.7 330.3 532.4 327.6 533.6 326.8" stroke="#3aa86e" stroke-width="1.2"/>
</g>
<rect x="315.5" y="245.8" width="218.10000000000002" height="174.7" fill="none" stroke="#1a1a1a" stroke-width="1.1"/>
<path d="M315.5 249h3.6M315.5 266.1h1.8M315.5 283.3h3.6M315.5 300.4h1.8M315.5 317.6h3.6M315.5 334.8h1.8M315.5 351.9h3.6M315.5 369.1h1.8M315.5 386.2h3.6M315.5 403.4h1.8M342.8 420.5v-1.8M370 420.5v-3.6M397.3 420.5v-1.8M424.6 420.5v-3.6M451.8 420.5v-1.8M479.1 420.5v-3.6M506.3 420.5v-1.8" stroke="#1a1a1a" stroke-width="1" fill="none"/>
<text transform="translate(311.9 253.4) scale(0.93 1)" text-anchor="end" class="tk" style="font-size:12.0px">0</text>
<text transform="translate(311.9 287.7) scale(0.93 1)" text-anchor="end" class="tk" style="font-size:12.0px">-10</text>
<text transform="translate(311.9 322) scale(0.93 1)" text-anchor="end" class="tk" style="font-size:12.0px">-20</text>
<text transform="translate(311.9 356.3) scale(0.93 1)" text-anchor="end" class="tk" style="font-size:12.0px">-30</text>
<text transform="translate(311.9 390.6) scale(0.93 1)" text-anchor="end" class="tk" style="font-size:12.0px">-40</text>
<text transform="translate(311.9 424.9) scale(0.93 1)" text-anchor="end" class="tk" style="font-size:12.0px">-50</text>
<text transform="translate(316 433.7) scale(0.93 1)" text-anchor="middle" class="tk" style="font-size:12.0px">1450</text>
<text transform="translate(370.5 433.7) scale(0.93 1)" text-anchor="middle" class="tk" style="font-size:12.0px">1500</text>
<text transform="translate(425.1 433.7) scale(0.93 1)" text-anchor="middle" class="tk" style="font-size:12.0px">1550</text>
<text transform="translate(479.6 433.7) scale(0.93 1)" text-anchor="middle" class="tk" style="font-size:12.0px">1600</text>
<text transform="translate(534.1 433.7) scale(0.93 1)" text-anchor="middle" class="tk" style="font-size:12.0px">1650</text>
<text transform="translate(284.6 331.3) rotate(-90)" text-anchor="middle" class="al" style="font-size:15.0px">Transmission (dB)</text>
<text x="424.5" y="455.1" text-anchor="middle" class="al" style="font-size:15.0px">Wavelength (nm)</text>
<text x="278.3" y="447.1" class="pl" style="font-size:16.6px">(c)</text>
<rect x="390.2" y="253.2" width="136.09999999999997" height="69.10000000000002" fill="#fff" stroke="#6e6e6e" stroke-width="0.8"/>
<path d="M392.3 261.5H417.3" stroke="#4a4a4a" stroke-width="1"/>
<text x="417.6" y="265.5" class="lg" style="font-size:11.5px">TM<tspan class="sb" dy="2.4">0</tspan><tspan dy="-2.4">-TE</tspan><tspan class="sb" dy="2.4">0</tspan><tspan dy="-2.4">, Thru\Sim.</tspan></text>
<path d="M392.3 278.4H417.3" stroke="#e04e52" stroke-width="1.1"/>
<text x="417.6" y="282.4" class="lg" style="font-size:11.5px">TM<tspan class="sb" dy="2.4">0</tspan><tspan dy="-2.4">-TE</tspan><tspan class="sb" dy="2.4">0</tspan><tspan dy="-2.4">, Cross\Sim.</tspan></text>
<path d="M392.3 295.2H417.3" stroke="#3f7fe0" stroke-width="1.5"/>
<text x="417.6" y="299.2" class="lg" style="font-size:11.5px">TM<tspan class="sb" dy="2.4">0</tspan><tspan dy="-2.4">-TM</tspan><tspan class="sb" dy="2.4">0</tspan><tspan dy="-2.4">, Thru\Sim.</tspan></text>
<path d="M392.3 312.2H417.3" stroke="#3aa86e" stroke-width="1.2"/>
<text x="417.6" y="316.2" class="lg" style="font-size:11.5px">TM<tspan class="sb" dy="2.4">0</tspan><tspan dy="-2.4">-TM</tspan><tspan class="sb" dy="2.4">0</tspan><tspan dy="-2.4">, Cross\Sim.</tspan></text>
</svg>
</body></html>
